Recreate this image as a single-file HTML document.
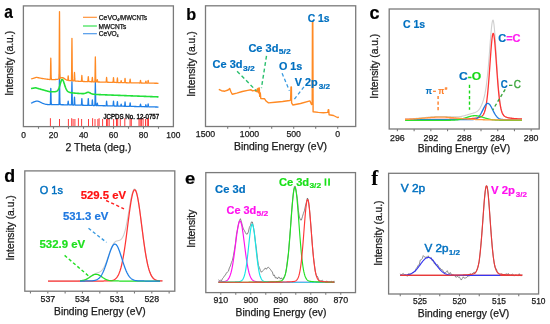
<!DOCTYPE html>
<html><head><meta charset="utf-8"><title>Figure</title>
<style>html,body{margin:0;padding:0;background:#fff;overflow:hidden;}svg{display:block;will-change:transform;}</style></head>
<body><svg width="550" height="324" viewBox="0 0 550 324">
<rect width="550" height="324" fill="#fff"/>
<text x="4.25" y="18.32" font-family='"Liberation Sans", sans-serif' font-weight="bold" font-size="18.07" fill="#000" stroke="#000" stroke-width="0.2" textLength="8.64" lengthAdjust="spacingAndGlyphs">a</text>
<rect x="23.4" y="5.9" width="150.00" height="120.70" fill="none" stroke="#7a7a7a" stroke-width="1.3"/>
<path d="M38.50,126.60v2.2M53.50,126.60v2.2M68.50,126.60v2.2M83.50,126.60v2.2M98.50,126.60v2.2M113.50,126.60v2.2M128.50,126.60v2.2M143.50,126.60v2.2M158.50,126.60v2.2" stroke="#7a7a7a" stroke-width="1.1" fill="none"/>
<text x="21.16" y="138.00" font-family='"Liberation Sans", sans-serif' font-weight="normal" font-size="8.40" fill="#1a1a1a" stroke="#1a1a1a" stroke-width="0.25">0</text>
<text x="48.78" y="138.00" font-family='"Liberation Sans", sans-serif' font-weight="normal" font-size="8.40" fill="#1a1a1a" stroke="#1a1a1a" stroke-width="0.25">20</text>
<text x="78.90" y="138.00" font-family='"Liberation Sans", sans-serif' font-weight="normal" font-size="8.40" fill="#1a1a1a" stroke="#1a1a1a" stroke-width="0.25">40</text>
<text x="108.78" y="138.00" font-family='"Liberation Sans", sans-serif' font-weight="normal" font-size="8.40" fill="#1a1a1a" stroke="#1a1a1a" stroke-width="0.25">60</text>
<text x="138.81" y="138.00" font-family='"Liberation Sans", sans-serif' font-weight="normal" font-size="8.40" fill="#1a1a1a" stroke="#1a1a1a" stroke-width="0.25">80</text>
<text x="166.33" y="138.00" font-family='"Liberation Sans", sans-serif' font-weight="normal" font-size="8.40" fill="#1a1a1a" stroke="#1a1a1a" stroke-width="0.25">100</text>
<text x="65.48" y="150.90" font-family='"Liberation Sans", sans-serif' font-weight="normal" font-size="10.30" fill="#1a1a1a" stroke="#1a1a1a" stroke-width="0.25" textLength="65.68" lengthAdjust="spacingAndGlyphs">2 Theta (deg.)</text>
<text transform="translate(13.00,95.74) rotate(-90)" x="0" y="0" font-family='"Liberation Sans", sans-serif' font-weight="normal" font-size="10.00" fill="#1a1a1a" stroke="#1a1a1a" stroke-width="0.25" textLength="64.77" lengthAdjust="spacingAndGlyphs">Intensity (a.u.)</text>
<path d="M50.40,126.00V118.2M59.50,126.00V119.0M68.40,126.00V119.0M71.70,126.00V118.2M73.10,126.00V119.0M74.90,126.00V119.0M78.40,126.00V118.2M81.60,126.00V119.0M88.50,126.00V119.0M92.60,126.00V118.2M95.00,126.00V119.0M97.90,126.00V119.0M99.10,126.00V118.2M102.60,126.00V119.0M106.50,126.00V119.0M107.70,126.00V118.2M109.20,126.00V119.0M113.60,126.00V119.0M116.50,126.00V118.2M117.70,126.00V119.0M120.30,126.00V119.0M124.80,126.00V118.2M130.10,126.00V119.0M131.30,126.00V119.0M139.00,126.00V118.2M140.20,126.00V119.0M141.40,126.00V119.0M143.10,126.00V118.2M145.50,126.00V119.0M147.30,126.00V119.0M148.50,126.00V118.2" stroke="#ff3b3b" stroke-width="1.0" fill="none"/>
<text x="103.46" y="118.50" font-family='"Liberation Sans", sans-serif' font-weight="normal" font-size="6.50" textLength="55.70" lengthAdjust="spacingAndGlyphs"><tspan fill="#111" stroke="#111" stroke-width="0.4">JCPDS No. 12-0757</tspan></text>
<path d="M31.00,103.13 L31.75,102.85 L32.50,102.54 L33.25,102.20 L34.00,101.87 L34.75,101.57 L35.50,101.33 L36.25,101.18 L37.00,101.14 L37.75,101.22 L38.50,101.40 L39.25,101.68 L40.00,102.02 L40.75,102.39 L41.50,102.76 L42.25,103.12 L43.00,103.45 L43.75,103.73 L44.50,103.96 L45.25,104.15 L46.00,104.30 L46.75,104.42 L47.50,104.51 L48.25,104.57 L49.00,104.61 L49.75,104.63 L49.90,104.64 L50.05,104.64 L50.20,104.58 L50.35,103.96 L50.50,100.68 L50.65,93.20 L50.80,88.34 L50.95,93.20 L51.10,100.68 L51.25,103.96 L51.40,104.58 L51.55,104.63 L51.70,104.63 L52.00,104.63 L52.75,104.62 L53.50,104.61 L54.25,104.61 L55.00,104.61 L55.75,104.62 L56.50,104.62 L57.25,104.64 L58.00,104.65 L58.60,104.66 L58.75,104.66 L58.90,104.56 L59.05,103.41 L59.20,97.27 L59.35,83.27 L59.50,74.18 L59.65,83.27 L59.80,97.28 L59.95,103.43 L60.10,104.59 L60.25,104.70 L60.40,104.71 L61.00,104.72 L61.75,104.74 L62.50,104.76 L63.25,104.77 L64.00,104.79 L64.75,104.81 L65.50,104.83 L66.25,104.85 L67.00,104.86 L67.30,104.87 L67.45,104.87 L67.60,104.87 L67.75,104.73 L67.90,103.99 L68.05,102.29 L68.20,101.19 L68.35,102.30 L68.50,104.00 L68.65,104.75 L68.80,104.89 L68.95,104.91 L69.10,104.91 L69.25,104.92 L70.00,104.94 L70.75,104.95 L71.05,104.96 L71.20,104.96 L71.35,104.89 L71.50,104.01 L71.65,99.31 L71.80,88.62 L71.95,81.68 L72.10,88.63 L72.25,99.33 L72.40,104.03 L72.55,104.92 L72.70,105.00 L72.85,105.00 L73.00,105.01 L73.60,105.02 L73.75,105.02 L73.90,105.00 L74.05,104.70 L74.20,103.09 L74.35,99.42 L74.50,97.04 L74.65,99.43 L74.80,103.11 L74.95,104.72 L75.10,105.03 L75.25,105.06 L75.40,105.07 L76.00,105.08 L76.75,105.10 L77.50,105.12 L78.25,105.13 L79.00,105.15 L79.75,105.17 L80.50,105.19 L80.95,105.20 L81.10,105.20 L81.25,105.18 L81.40,104.94 L81.55,103.61 L81.70,100.58 L81.85,98.62 L82.00,100.59 L82.15,103.62 L82.30,104.96 L82.45,105.21 L82.60,105.24 L82.75,105.24 L83.50,105.26 L84.25,105.28 L85.00,105.30 L85.75,105.31 L86.50,105.33 L87.25,105.35 L87.40,105.35 L87.55,105.36 L87.70,105.34 L87.85,105.08 L88.00,103.72 L88.15,100.60 L88.30,98.58 L88.45,100.60 L88.60,103.73 L88.75,105.10 L88.90,105.37 L89.05,105.39 L89.20,105.40 L89.50,105.40 L90.25,105.42 L91.00,105.44 L91.45,105.45 L91.60,105.45 L91.75,105.44 L91.90,105.23 L92.05,104.13 L92.20,101.61 L92.35,99.97 L92.50,101.61 L92.65,104.14 L92.80,105.26 L92.95,105.47 L93.10,105.49 L93.25,105.49 L94.00,105.51 L94.45,105.52 L94.60,105.52 L94.75,105.45 L94.90,104.57 L95.05,99.90 L95.20,89.25 L95.35,82.34 L95.50,89.26 L95.65,99.91 L95.80,104.59 L95.95,105.48 L96.10,105.56 L96.25,105.57 L96.40,105.57 L96.55,105.57 L96.70,105.57 L96.85,105.48 L97.00,105.00 L97.15,103.90 L97.30,103.19 L97.45,103.91 L97.60,105.02 L97.75,105.50 L97.90,105.60 L98.05,105.61 L98.20,105.61 L98.50,105.62 L99.25,105.64 L100.00,105.66 L100.75,105.67 L101.50,105.69 L102.25,105.71 L103.00,105.73 L103.75,105.75 L104.50,105.76 L105.25,105.78 L105.70,105.79 L105.85,105.80 L106.00,105.78 L106.15,105.61 L106.30,104.66 L106.45,102.51 L106.60,101.11 L106.75,102.52 L106.90,104.68 L107.05,105.63 L107.20,105.81 L107.35,105.83 L107.50,105.84 L108.25,105.85 L109.00,105.87 L109.75,105.89 L110.50,105.91 L111.25,105.93 L112.00,105.94 L112.60,105.96 L112.75,105.96 L112.90,105.95 L113.05,105.77 L113.20,104.81 L113.35,102.61 L113.50,101.18 L113.65,102.61 L113.80,104.82 L113.95,105.79 L114.10,105.98 L114.25,106.00 L114.40,106.00 L115.00,106.02 L115.75,106.03 L116.50,106.05 L116.65,106.05 L116.80,106.04 L116.95,105.88 L117.10,104.97 L117.25,102.91 L117.40,101.57 L117.55,102.92 L117.70,104.99 L117.85,105.90 L118.00,106.07 L118.15,106.09 L118.30,106.10 L118.75,106.11 L119.50,106.12 L120.25,106.14 L120.40,106.15 L120.55,106.14 L120.70,106.07 L120.85,105.67 L121.00,104.76 L121.15,104.16 L121.30,104.76 L121.45,105.68 L121.60,106.09 L121.75,106.17 L121.90,106.18 L122.05,106.19 L122.50,106.20 L123.25,106.21 L124.00,106.23 L124.15,106.24 L124.30,106.24 L124.45,106.23 L124.60,106.07 L124.75,105.20 L124.90,103.23 L125.05,101.96 L125.20,103.24 L125.35,105.22 L125.50,106.09 L125.65,106.26 L125.80,106.27 L125.95,106.28 L126.25,106.29 L127.00,106.30 L127.75,106.32 L128.50,106.34 L129.25,106.36 L129.40,106.36 L129.55,106.35 L129.70,106.22 L129.85,105.50 L130.00,103.85 L130.15,102.78 L130.30,103.86 L130.45,105.51 L130.60,106.24 L130.75,106.38 L130.90,106.40 L131.05,106.40 L131.50,106.41 L132.25,106.43 L133.00,106.45 L133.75,106.47 L134.50,106.48 L135.25,106.50 L136.00,106.52 L136.75,106.54 L137.50,106.56 L138.25,106.57 L139.00,106.59 L139.60,106.61 L139.75,106.61 L139.90,106.60 L140.05,106.51 L140.20,106.01 L140.35,104.87 L140.50,104.13 L140.65,104.88 L140.80,106.03 L140.95,106.54 L141.10,106.63 L141.25,106.65 L141.40,106.65 L142.00,106.66 L142.75,106.68 L143.50,106.70 L144.25,106.72 L145.00,106.74 L145.15,106.74 L145.30,106.74 L145.45,106.66 L145.60,106.26 L145.75,105.35 L145.90,104.76 L146.05,105.36 L146.20,106.28 L146.35,106.69 L146.50,106.77 L146.65,106.78 L146.80,106.78 L147.25,106.79 L147.40,106.79 L147.55,106.79 L147.70,106.68 L147.85,106.12 L148.00,104.84 L148.15,104.01 L148.30,104.85 L148.45,106.14 L148.60,106.71 L148.75,106.82 L148.90,106.83 L149.05,106.83 L149.50,106.84 L150.25,106.86 L151.00,106.88 L151.75,106.90 L152.50,106.92 L153.25,106.93 L154.00,106.95 L154.75,106.97 L155.50,106.99 L156.25,107.01 L157.00,107.02 L157.75,107.04 L158.50,107.06" stroke="#1f7fe6" stroke-width="1.3" fill="none" stroke-linejoin="round"/>
<path d="M31.00,88.57 L31.38,88.50 L31.75,88.44 L32.12,88.37 L32.50,88.30 L32.88,88.23 L33.25,88.17 L33.62,88.10 L34.00,88.03 L34.38,87.96 L34.75,87.90 L35.12,87.83 L35.50,87.76 L35.88,87.87 L36.25,87.97 L36.62,88.08 L37.00,88.19 L37.38,88.29 L37.75,88.40 L38.12,88.51 L38.50,88.61 L38.88,88.72 L39.25,88.83 L39.62,88.93 L40.00,89.04 L40.38,89.14 L40.75,89.25 L41.12,89.36 L41.50,89.46 L41.88,89.57 L42.25,89.67 L42.62,89.78 L43.00,89.88 L43.38,89.99 L43.75,90.09 L44.12,90.20 L44.50,90.30 L44.88,90.40 L45.25,90.51 L45.62,90.61 L46.00,90.72 L46.38,90.82 L46.75,90.92 L47.12,91.02 L47.50,91.13 L47.88,91.23 L48.25,91.33 L48.62,91.43 L49.00,91.53 L49.38,91.63 L49.75,91.72 L50.12,91.74 L50.50,91.74 L50.88,91.75 L51.25,91.76 L51.62,91.77 L52.00,91.77 L52.38,91.77 L52.75,91.77 L53.12,91.77 L53.50,91.77 L53.88,91.76 L54.25,91.74 L54.62,91.72 L55.00,91.69 L55.38,91.64 L55.75,91.57 L56.12,91.47 L56.50,91.34 L56.88,91.14 L57.25,90.87 L57.62,90.50 L58.00,90.01 L58.38,89.39 L58.75,88.61 L59.12,87.68 L59.50,86.59 L59.88,85.37 L60.25,84.07 L60.62,82.75 L61.00,81.51 L61.38,80.46 L61.75,79.73 L62.12,79.42 L62.50,79.54 L62.88,80.02 L63.25,80.79 L63.62,81.78 L64.00,82.90 L64.38,84.09 L64.75,85.27 L65.12,86.39 L65.50,87.44 L65.88,88.38 L66.25,89.20 L66.62,89.90 L67.00,90.48 L67.38,90.96 L67.75,91.35 L68.12,91.65 L68.50,91.90 L68.88,92.09 L69.25,92.24 L69.62,92.36 L70.00,92.47 L70.38,92.55 L70.75,92.62 L71.12,92.68 L71.50,92.74 L71.88,92.79 L72.25,92.84 L72.62,92.89 L73.00,92.93 L73.38,92.97 L73.75,93.01 L74.12,93.04 L74.50,93.08 L74.88,93.11 L75.25,93.15 L75.62,93.18 L76.00,93.21 L76.38,93.24 L76.75,93.27 L77.12,93.30 L77.50,93.33 L77.88,93.35 L78.25,93.38 L78.62,93.40 L79.00,93.43 L79.38,93.46 L79.75,93.48 L80.12,93.51 L80.50,93.53 L80.88,93.55 L81.25,93.57 L81.62,93.59 L82.00,93.61 L82.38,93.62 L82.75,93.63 L83.12,93.63 L83.50,93.61 L83.88,93.58 L84.25,93.53 L84.62,93.45 L85.00,93.35 L85.38,93.22 L85.75,93.08 L86.12,92.91 L86.50,92.75 L86.88,92.59 L87.25,92.45 L87.62,92.35 L88.00,92.30 L88.38,92.31 L88.75,92.37 L89.12,92.48 L89.50,92.64 L89.88,92.83 L90.25,93.04 L90.62,93.25 L91.00,93.45 L91.38,93.63 L91.75,93.79 L92.12,93.93 L92.50,94.04 L92.88,94.12 L93.25,94.19 L93.62,94.25 L94.00,94.29 L94.38,94.32 L94.75,94.35 L95.12,94.38 L95.50,94.40 L95.88,94.43 L96.25,94.45 L96.62,94.47 L97.00,94.49 L97.38,94.51 L97.75,94.53 L98.12,94.55 L98.50,94.57 L98.88,94.59 L99.25,94.60 L99.62,94.62 L100.00,94.63 L100.38,94.65 L100.75,94.66 L101.12,94.68 L101.50,94.69 L101.88,94.71 L102.25,94.72 L102.62,94.74 L103.00,94.75 L103.38,94.76 L103.75,94.78 L104.12,94.79 L104.50,94.81 L104.88,94.82 L105.25,94.84 L105.62,94.85 L106.00,94.87 L106.38,94.88 L106.75,94.90 L107.12,94.91 L107.50,94.93 L107.88,94.94 L108.25,94.96 L108.62,94.97 L109.00,94.99 L109.38,95.00 L109.75,95.01 L110.12,95.03 L110.50,95.04 L110.88,95.06 L111.25,95.07 L111.62,95.09 L112.00,95.10 L112.38,95.12 L112.75,95.13 L113.12,95.15 L113.50,95.16 L113.88,95.18 L114.25,95.19 L114.62,95.20 L115.00,95.22 L115.38,95.23 L115.75,95.25 L116.12,95.26 L116.50,95.28 L116.88,95.29 L117.25,95.31 L117.62,95.32 L118.00,95.34 L118.38,95.35 L118.75,95.36 L119.12,95.38 L119.50,95.39 L119.88,95.41 L120.25,95.42 L120.62,95.44 L121.00,95.45 L121.38,95.47 L121.75,95.48 L122.12,95.50 L122.50,95.51 L122.88,95.52 L123.25,95.54 L123.62,95.55 L124.00,95.57 L124.38,95.58 L124.75,95.60 L125.12,95.61 L125.50,95.63 L125.88,95.64 L126.25,95.65 L126.62,95.67 L127.00,95.68 L127.38,95.70 L127.75,95.71 L128.12,95.73 L128.50,95.74 L128.88,95.76 L129.25,95.77 L129.62,95.78 L130.00,95.80 L130.38,95.81 L130.75,95.83 L131.12,95.84 L131.50,95.86 L131.88,95.87 L132.25,95.89 L132.62,95.90 L133.00,95.92 L133.38,95.93 L133.75,95.94 L134.12,95.96 L134.50,95.97 L134.88,95.99 L135.25,96.00 L135.62,96.02 L136.00,96.03 L136.38,96.05 L136.75,96.06 L137.12,96.07 L137.50,96.09 L137.88,96.10 L138.25,96.12 L138.62,96.13 L139.00,96.15 L139.38,96.16 L139.75,96.18 L140.12,96.19 L140.50,96.20 L140.88,96.22 L141.25,96.23 L141.62,96.25 L142.00,96.26 L142.38,96.28 L142.75,96.29 L143.12,96.30 L143.50,96.32 L143.88,96.33 L144.25,96.35 L144.62,96.36 L145.00,96.38 L145.38,96.39 L145.75,96.41 L146.12,96.42 L146.50,96.43 L146.88,96.45 L147.25,96.46 L147.62,96.48 L148.00,96.49 L148.38,96.51 L148.75,96.52 L149.12,96.54 L149.50,96.55 L149.88,96.56 L150.25,96.58 L150.62,96.59 L151.00,96.61 L151.38,96.62 L151.75,96.64 L152.12,96.65 L152.50,96.67 L152.88,96.68 L153.25,96.69 L153.62,96.71 L154.00,96.72 L154.38,96.74 L154.75,96.75 L155.12,96.77 L155.50,96.78 L155.88,96.80 L156.25,96.81 L156.62,96.82 L157.00,96.84 L157.38,96.85 L157.75,96.87 L158.12,96.88 L158.50,96.90" stroke="#22e03a" stroke-width="1.6" fill="none" stroke-linejoin="round"/>
<path d="M31.00,79.00 L31.75,78.75 L32.50,78.51 L33.25,78.27 L34.00,78.02 L34.75,77.78 L35.50,77.54 L36.25,77.29 L37.00,77.45 L37.75,77.61 L38.50,77.76 L39.25,77.92 L40.00,78.08 L40.75,78.23 L41.50,78.39 L42.25,78.50 L43.00,78.61 L43.75,78.71 L44.50,78.82 L45.25,78.93 L46.00,79.04 L46.75,79.14 L47.50,79.25 L48.25,79.36 L49.00,79.47 L49.75,79.57 L49.90,79.57 L50.05,79.57 L50.20,79.50 L50.35,78.69 L50.50,74.39 L50.65,64.61 L50.80,58.27 L50.95,64.61 L51.10,74.39 L51.25,78.68 L51.40,79.49 L51.55,79.56 L51.70,79.56 L52.00,79.56 L52.75,79.55 L53.50,79.54 L54.25,79.53 L55.00,79.52 L55.75,79.49 L56.50,79.44 L57.25,79.35 L58.00,79.19 L58.60,79.00 L58.75,78.93 L58.90,78.64 L59.05,76.03 L59.20,62.45 L59.35,31.61 L59.50,11.57 L59.65,31.46 L59.80,62.15 L59.95,75.58 L60.10,78.05 L60.25,78.19 L60.40,78.13 L61.00,77.82 L61.75,77.55 L62.50,77.54 L63.25,77.84 L64.00,78.34 L64.75,78.89 L65.50,79.40 L66.25,79.80 L67.00,80.10 L67.30,80.19 L67.45,80.23 L67.60,80.26 L67.75,80.12 L67.90,79.25 L68.05,77.22 L68.20,75.91 L68.35,77.28 L68.50,79.37 L68.65,80.30 L68.80,80.49 L68.95,80.52 L69.10,80.54 L69.25,80.55 L70.00,80.62 L70.75,80.69 L71.05,80.71 L71.20,80.72 L71.35,80.59 L71.50,78.99 L71.65,70.43 L71.80,50.93 L71.95,38.28 L72.10,50.95 L72.25,70.48 L72.40,79.05 L72.55,80.68 L72.70,80.83 L72.85,80.85 L73.00,80.86 L73.60,80.90 L73.75,80.91 L73.90,80.90 L74.05,80.58 L74.20,78.88 L74.35,74.99 L74.50,72.47 L74.65,75.01 L74.80,78.93 L74.95,80.65 L75.10,80.98 L75.25,81.02 L75.40,81.03 L76.00,81.08 L76.75,81.13 L77.50,81.18 L78.25,81.23 L79.00,81.28 L79.75,81.33 L80.50,81.39 L80.95,81.40 L81.10,81.41 L81.25,81.39 L81.40,81.17 L81.55,79.96 L81.70,77.21 L81.85,75.43 L82.00,77.23 L82.15,79.99 L82.30,81.20 L82.45,81.43 L82.60,81.46 L82.75,81.46 L83.50,81.49 L84.25,81.52 L85.00,81.54 L85.75,81.57 L86.50,81.59 L87.25,81.62 L87.40,81.62 L87.55,81.63 L87.70,81.62 L87.85,81.43 L88.00,80.43 L88.15,78.14 L88.30,76.65 L88.45,78.15 L88.60,80.45 L88.75,81.46 L88.90,81.66 L89.05,81.68 L89.20,81.68 L89.50,81.69 L90.25,81.72 L91.00,81.74 L91.45,81.76 L91.60,81.76 L91.75,81.75 L91.90,81.59 L92.05,80.69 L92.20,78.63 L92.35,77.29 L92.50,78.64 L92.65,80.71 L92.80,81.62 L92.95,81.79 L93.10,81.81 L93.25,81.82 L94.00,81.85 L94.45,81.86 L94.60,81.86 L94.75,81.78 L94.90,80.84 L95.05,75.80 L95.20,64.33 L95.35,56.89 L95.50,64.34 L95.65,75.83 L95.80,80.87 L95.95,81.82 L96.10,81.91 L96.25,81.92 L96.40,81.93 L96.55,81.93 L96.70,81.93 L96.85,81.84 L97.00,81.36 L97.15,80.27 L97.30,79.56 L97.45,80.28 L97.60,81.38 L97.75,81.87 L97.90,81.97 L98.05,81.98 L98.20,81.99 L98.50,82.00 L99.25,82.02 L100.00,82.04 L100.75,82.06 L101.50,82.08 L102.25,82.10 L103.00,82.12 L103.75,82.14 L104.50,82.16 L105.25,82.18 L105.70,82.19 L105.85,82.19 L106.00,82.18 L106.15,82.01 L106.30,81.06 L106.45,78.91 L106.60,77.51 L106.75,78.92 L106.90,81.08 L107.05,82.03 L107.20,82.21 L107.35,82.23 L107.50,82.24 L108.25,82.26 L109.00,82.28 L109.75,82.30 L110.50,82.32 L111.25,82.34 L112.00,82.36 L112.60,82.37 L112.75,82.38 L112.90,82.37 L113.05,82.19 L113.20,81.22 L113.35,79.02 L113.50,77.60 L113.65,79.03 L113.80,81.24 L113.95,82.21 L114.10,82.40 L114.25,82.42 L114.40,82.42 L115.00,82.44 L115.75,82.46 L116.50,82.48 L116.65,82.48 L116.80,82.47 L116.95,82.30 L117.10,81.40 L117.25,79.34 L117.40,78.00 L117.55,79.35 L117.70,81.42 L117.85,82.33 L118.00,82.50 L118.15,82.52 L118.30,82.53 L118.75,82.54 L119.50,82.56 L120.25,82.58 L120.40,82.58 L120.55,82.58 L120.70,82.51 L120.85,82.11 L121.00,81.19 L121.15,80.60 L121.30,81.20 L121.45,82.12 L121.60,82.53 L121.75,82.61 L121.90,82.62 L122.05,82.63 L122.50,82.64 L123.25,82.66 L124.00,82.68 L124.15,82.68 L124.30,82.69 L124.45,82.68 L124.60,82.52 L124.75,81.65 L124.90,79.68 L125.05,78.41 L125.20,79.69 L125.35,81.67 L125.50,82.54 L125.65,82.71 L125.80,82.73 L125.95,82.73 L126.25,82.74 L127.00,82.76 L127.75,82.78 L128.50,82.80 L129.25,82.81 L129.40,82.81 L129.55,82.80 L129.70,82.67 L129.85,81.95 L130.00,80.30 L130.15,79.23 L130.30,80.30 L130.45,81.96 L130.60,82.68 L130.75,82.82 L130.90,82.84 L131.05,82.84 L131.50,82.85 L132.25,82.86 L133.00,82.87 L133.75,82.89 L134.50,82.90 L135.25,82.91 L136.00,82.92 L136.75,82.94 L137.50,82.95 L138.25,82.96 L139.00,82.97 L139.60,82.98 L139.75,82.99 L139.90,82.98 L140.05,82.89 L140.20,82.39 L140.35,81.24 L140.50,80.50 L140.65,81.25 L140.80,82.40 L140.95,82.90 L141.10,83.00 L141.25,83.01 L141.40,83.01 L142.00,83.02 L142.75,83.04 L143.50,83.05 L144.25,83.06 L145.00,83.07 L145.15,83.08 L145.30,83.07 L145.45,83.00 L145.60,82.60 L145.75,81.68 L145.90,81.09 L146.05,81.69 L146.20,82.61 L146.35,83.01 L146.50,83.09 L146.65,83.10 L146.80,83.10 L147.25,83.11 L147.40,83.11 L147.55,83.11 L147.70,83.00 L147.85,82.44 L148.00,81.16 L148.15,80.33 L148.30,81.16 L148.45,82.45 L148.60,83.02 L148.75,83.13 L148.90,83.14 L149.05,83.14 L149.50,83.15 L150.25,83.16 L151.00,83.17 L151.75,83.19 L152.50,83.20 L153.25,83.21 L154.00,83.22 L154.75,83.24 L155.50,83.25 L156.25,83.26 L157.00,83.27 L157.75,83.29 L158.50,83.30" stroke="#ff8a24" stroke-width="1.3" fill="none" stroke-linejoin="round"/>
<line x1="83" y1="17.3" x2="96.9" y2="17.3" stroke="#ff8f33" stroke-width="1.15"/>
<line x1="83" y1="26.0" x2="96.9" y2="26.0" stroke="#2ee048" stroke-width="1.15"/>
<line x1="83" y1="33.7" x2="96.9" y2="33.7" stroke="#4a96ea" stroke-width="1.15"/>
<text x="98.66" y="19.80" font-family='"Liberation Sans", sans-serif' font-weight="normal" font-size="6.30" fill="#111" stroke="#111" stroke-width="0.25" textLength="18.67" lengthAdjust="spacingAndGlyphs">CeVO</text>
<text x="117.23" y="21.00" font-family='"Liberation Sans", sans-serif' font-weight="normal" font-size="4.20" fill="#111" stroke="#111" stroke-width="0.25" textLength="1.87" lengthAdjust="spacingAndGlyphs">4</text>
<text x="119.40" y="19.80" font-family='"Liberation Sans", sans-serif' font-weight="normal" font-size="6.30" fill="#111" stroke="#111" stroke-width="0.25" textLength="27.82" lengthAdjust="spacingAndGlyphs">/MWCNTs</text>
<text x="98.46" y="28.50" font-family='"Liberation Sans", sans-serif' font-weight="normal" font-size="6.30" fill="#111" stroke="#111" stroke-width="0.25" textLength="27.78" lengthAdjust="spacingAndGlyphs">MWCNTs</text>
<text x="98.67" y="36.20" font-family='"Liberation Sans", sans-serif' font-weight="normal" font-size="6.30" fill="#111" stroke="#111" stroke-width="0.25" textLength="18.15" lengthAdjust="spacingAndGlyphs">CeVO</text>
<text x="116.63" y="37.40" font-family='"Liberation Sans", sans-serif' font-weight="normal" font-size="4.20" fill="#111" stroke="#111" stroke-width="0.25" textLength="1.76" lengthAdjust="spacingAndGlyphs">4</text>
<text x="186.34" y="20.43" font-family='"Liberation Sans", sans-serif' font-weight="bold" font-size="17.28" fill="#000" stroke="#000" stroke-width="0.2" textLength="9.92" lengthAdjust="spacingAndGlyphs">b</text>
<rect x="205.5" y="5.8" width="150.20" height="120.70" fill="none" stroke="#7a7a7a" stroke-width="1.3"/>
<path d="M337.70,126.50v2.2M315.70,126.50v2.2M293.70,126.50v2.2M271.70,126.50v2.2M249.70,126.50v2.2M227.70,126.50v2.2" stroke="#7a7a7a" stroke-width="1.1" fill="none"/>
<text x="195.86" y="136.80" font-family='"Liberation Sans", sans-serif' font-weight="normal" font-size="8.70" fill="#1a1a1a" stroke="#1a1a1a" stroke-width="0.25">1500</text>
<text x="239.86" y="136.80" font-family='"Liberation Sans", sans-serif' font-weight="normal" font-size="8.70" fill="#1a1a1a" stroke="#1a1a1a" stroke-width="0.25">1000</text>
<text x="286.44" y="136.80" font-family='"Liberation Sans", sans-serif' font-weight="normal" font-size="8.70" fill="#1a1a1a" stroke="#1a1a1a" stroke-width="0.25">500</text>
<text x="335.28" y="136.80" font-family='"Liberation Sans", sans-serif' font-weight="normal" font-size="8.70" fill="#1a1a1a" stroke="#1a1a1a" stroke-width="0.25">0</text>
<text x="234.05" y="150.00" font-family='"Liberation Sans", sans-serif' font-weight="normal" font-size="10.20" fill="#1a1a1a" stroke="#1a1a1a" stroke-width="0.25" textLength="93.00" lengthAdjust="spacingAndGlyphs">Binding Energy (eV)</text>
<text transform="translate(194.60,96.85) rotate(-90)" x="0" y="0" font-family='"Liberation Sans", sans-serif' font-weight="normal" font-size="10.00" fill="#1a1a1a" stroke="#1a1a1a" stroke-width="0.25" textLength="65.49" lengthAdjust="spacingAndGlyphs">Intensity (a.u.)</text>
<path d="M218.80,89.30 L221.50,90.70 L224.80,91.20 L228.10,90.00 L229.70,88.50 L230.80,91.50 L232.20,94.20 L236.80,93.10 L242.30,91.50 L247.70,90.40 L251.00,89.80 L252.60,90.90 L254.80,90.40 L256.50,91.60 L257.30,88.90 L257.80,92.00 L258.30,88.20 L258.80,93.00 L259.30,88.00 L259.70,96.40 L260.30,93.00 L260.80,98.50 L264.60,98.80 L266.30,101.30 L268.50,102.90 L275.00,102.20 L282.60,101.50 L289.60,100.50 L290.60,100.20 L291.00,87.00 L291.40,87.00 L291.60,102.80 L292.80,105.00 L300.50,103.50 L310.00,100.90 L311.50,104.50 L312.20,104.20 L312.45,22.00 L312.80,22.00 L313.10,111.70 L318.30,112.40 L323.40,112.70 L327.80,112.40 L328.30,109.60 L328.70,109.60 L329.10,114.80 L333.50,115.50 L337.40,117.50 L338.90,117.30" stroke="#ff8a24" stroke-width="1.4" fill="none" stroke-linejoin="round"/>
<line x1="237.1" y1="71.2" x2="256.3" y2="90.8" stroke="#2bbf6e" stroke-width="1.4" stroke-dasharray="3.8,2.6"/>
<line x1="266.5" y1="55.9" x2="261.4" y2="88.2" stroke="#2bbf6e" stroke-width="1.4" stroke-dasharray="3.8,2.6"/>
<line x1="282.1" y1="73.3" x2="289.4" y2="90.7" stroke="#3a9ae0" stroke-width="1.3" stroke-dasharray="3.4,2.6"/>
<line x1="303.9" y1="86.9" x2="292.9" y2="101.0" stroke="#3a9ae0" stroke-width="1.3" stroke-dasharray="3.4,2.6"/>
<text x="307.73" y="22.30" font-family='"Liberation Sans", sans-serif' font-weight="bold" font-size="10.34" textLength="21.84" lengthAdjust="spacingAndGlyphs"><tspan fill="#0070C0" stroke="#0070C0" stroke-width="0.2">C 1s</tspan></text>
<text x="248.40" y="51.70" font-family='"Liberation Sans", sans-serif' font-weight="bold" font-size="11.05" textLength="30.08" lengthAdjust="spacingAndGlyphs"><tspan fill="#0070C0" stroke="#0070C0" stroke-width="0.2">Ce 3d</tspan></text>
<text x="278.84" y="54.47" font-family='"Liberation Sans", sans-serif' font-weight="bold" font-size="6.71" fill="#0070C0" stroke="#0070C0" stroke-width="0.2" textLength="11.89" lengthAdjust="spacingAndGlyphs">5/2</text>
<text x="212.60" y="68.20" font-family='"Liberation Sans", sans-serif' font-weight="bold" font-size="11.01" textLength="29.98" lengthAdjust="spacingAndGlyphs"><tspan fill="#0070C0" stroke="#0070C0" stroke-width="0.2">Ce 3d</tspan></text>
<text x="243.01" y="70.97" font-family='"Liberation Sans", sans-serif' font-weight="bold" font-size="6.71" fill="#0070C0" stroke="#0070C0" stroke-width="0.2" textLength="11.82" lengthAdjust="spacingAndGlyphs">3/2</text>
<text x="278.91" y="70.30" font-family='"Liberation Sans", sans-serif' font-weight="bold" font-size="10.78" textLength="23.37" lengthAdjust="spacingAndGlyphs"><tspan fill="#0070C0" stroke="#0070C0" stroke-width="0.2">O 1s</tspan></text>
<text x="294.78" y="86.20" font-family='"Liberation Sans", sans-serif' font-weight="bold" font-size="10.85" textLength="22.91" lengthAdjust="spacingAndGlyphs"><tspan fill="#0070C0" stroke="#0070C0" stroke-width="0.2">V 2p</tspan></text>
<text x="318.72" y="88.75" font-family='"Liberation Sans", sans-serif' font-weight="bold" font-size="7.65" fill="#0070C0" stroke="#0070C0" stroke-width="0.2" textLength="11.40" lengthAdjust="spacingAndGlyphs">3/2</text>
<text x="369.40" y="18.81" font-family='"Liberation Sans", sans-serif' font-weight="bold" font-size="18.61" fill="#000" stroke="#000" stroke-width="0.2" textLength="10.03" lengthAdjust="spacingAndGlyphs">c</text>
<rect x="389.2" y="9.0" width="150.00" height="120.00" fill="none" stroke="#7a7a7a" stroke-width="1.3"/>
<path d="M531.16,129.00v2.2M514.44,129.00v2.2M497.72,129.00v2.2M481.00,129.00v2.2M464.28,129.00v2.2M447.56,129.00v2.2M430.84,129.00v2.2M414.12,129.00v2.2M397.40,129.00v2.2" stroke="#7a7a7a" stroke-width="1.1" fill="none"/>
<text x="390.03" y="141.00" font-family='"Liberation Sans", sans-serif' font-weight="normal" font-size="8.80" fill="#1a1a1a" stroke="#1a1a1a" stroke-width="0.25">296</text>
<text x="423.50" y="141.00" font-family='"Liberation Sans", sans-serif' font-weight="normal" font-size="8.80" fill="#1a1a1a" stroke="#1a1a1a" stroke-width="0.25">292</text>
<text x="456.91" y="141.00" font-family='"Liberation Sans", sans-serif' font-weight="normal" font-size="8.80" fill="#1a1a1a" stroke="#1a1a1a" stroke-width="0.25">288</text>
<text x="490.29" y="141.00" font-family='"Liberation Sans", sans-serif' font-weight="normal" font-size="8.80" fill="#1a1a1a" stroke="#1a1a1a" stroke-width="0.25">284</text>
<text x="523.77" y="141.00" font-family='"Liberation Sans", sans-serif' font-weight="normal" font-size="8.80" fill="#1a1a1a" stroke="#1a1a1a" stroke-width="0.25">280</text>
<text x="417.75" y="152.40" font-family='"Liberation Sans", sans-serif' font-weight="normal" font-size="10.20" fill="#1a1a1a" stroke="#1a1a1a" stroke-width="0.25" textLength="92.39" lengthAdjust="spacingAndGlyphs">Binding Energy (eV)</text>
<text transform="translate(378.00,98.64) rotate(-90)" x="0" y="0" font-family='"Liberation Sans", sans-serif' font-weight="normal" font-size="10.00" fill="#1a1a1a" stroke="#1a1a1a" stroke-width="0.25" textLength="64.88" lengthAdjust="spacingAndGlyphs">Intensity (a.u.)</text>
<path d="M405.00,119.14 L405.50,119.12 L406.00,119.09 L406.50,119.07 L407.00,119.04 L407.50,119.01 L408.00,118.99 L408.50,118.96 L409.00,118.93 L409.50,118.89 L410.00,118.86 L410.50,118.83 L411.00,118.79 L411.50,118.76 L412.00,118.72 L412.50,118.68 L413.00,118.64 L413.50,118.60 L414.00,118.56 L414.50,118.52 L415.00,118.48 L415.50,118.44 L416.00,118.39 L416.50,118.35 L417.00,118.30 L417.50,118.26 L418.00,118.21 L418.50,118.16 L419.00,118.11 L419.50,118.06 L420.00,118.01 L420.50,117.96 L421.00,117.91 L421.50,117.86 L422.00,117.81 L422.50,117.76 L423.00,117.71 L423.50,117.66 L424.00,117.61 L424.50,117.56 L425.00,117.51 L425.50,117.46 L426.00,117.41 L426.50,117.36 L427.00,117.31 L427.50,117.27 L428.00,117.22 L428.50,117.17 L429.00,117.13 L429.50,117.08 L430.00,117.04 L430.50,117.00 L431.00,116.96 L431.50,116.92 L432.00,116.88 L432.50,116.85 L433.00,116.81 L433.50,116.78 L434.00,116.75 L434.50,116.72 L435.00,116.69 L435.50,116.67 L436.00,116.65 L436.50,116.62 L437.00,116.61 L437.50,116.59 L438.00,116.57 L438.50,116.56 L439.00,116.55 L439.50,116.54 L440.00,116.53 L440.50,116.53 L441.00,116.53 L441.50,116.53 L442.00,116.53 L442.50,116.53 L443.00,116.54 L443.50,116.55 L444.00,116.56 L444.50,116.57 L445.00,116.58 L445.50,116.60 L446.00,116.61 L446.50,116.63 L447.00,116.65 L447.50,116.67 L448.00,116.69 L448.50,116.71 L449.00,116.73 L449.50,116.75 L450.00,116.77 L450.50,116.80 L451.00,116.82 L451.50,116.83 L452.00,116.85 L452.50,116.87 L453.00,116.88 L453.50,116.89 L454.00,116.90 L454.50,116.91 L455.00,116.91 L455.50,116.90 L456.00,116.89 L456.50,116.88 L457.00,116.86 L457.50,116.83 L458.00,116.80 L458.50,116.76 L459.00,116.71 L459.50,116.66 L460.00,116.59 L460.50,116.52 L461.00,116.44 L461.50,116.35 L462.00,116.26 L462.50,116.15 L463.00,116.04 L463.50,115.92 L464.00,115.79 L464.50,115.66 L465.00,115.52 L465.50,115.38 L466.00,115.23 L466.50,115.08 L467.00,114.93 L467.50,114.77 L468.00,114.61 L468.50,114.46 L469.00,114.31 L469.50,114.15 L470.00,114.01 L470.50,113.86 L471.00,113.72 L471.50,113.58 L472.00,113.44 L472.50,113.30 L473.00,113.17 L473.50,113.02 L474.00,112.87 L474.50,112.71 L475.00,112.53 L475.50,112.33 L476.00,112.10 L476.50,111.82 L477.00,111.51 L477.50,111.14 L478.00,110.70 L478.50,110.20 L479.00,109.62 L479.50,108.95 L480.00,108.19 L480.50,107.33 L481.00,106.37 L481.50,105.30 L482.00,104.11 L482.50,102.79 L483.00,101.32 L483.50,99.69 L484.00,97.85 L484.50,95.78 L485.00,93.42 L485.50,90.72 L486.00,87.62 L486.50,84.07 L487.00,80.00 L487.50,75.40 L488.00,70.24 L488.50,64.57 L489.00,58.45 L489.50,52.00 L490.00,45.40 L490.50,38.91 L491.00,32.82 L491.50,27.49 L492.00,23.33 L492.50,20.73 L493.00,20.00 L493.50,21.31 L494.00,24.61 L494.50,29.68 L495.00,36.13 L495.50,43.54 L496.00,51.48 L496.50,59.57 L497.00,67.49 L497.50,75.01 L498.00,81.95 L498.50,88.18 L499.00,93.65 L499.50,98.34 L500.00,102.29 L500.50,105.54 L501.00,108.18 L501.50,110.29 L502.00,111.94 L502.50,113.24 L503.00,114.24 L503.50,115.01 L504.00,115.61 L504.50,116.08 L505.00,116.45 L505.50,116.75 L506.00,117.00 L506.50,117.20 L507.00,117.38 L507.50,117.53 L508.00,117.67 L508.50,117.79 L509.00,117.90 L509.50,118.00 L510.00,118.09 L510.50,118.17 L511.00,118.24 L511.50,118.31 L512.00,118.38 L512.50,118.44 L513.00,118.49 L513.50,118.55 L514.00,118.59 L514.50,118.64 L515.00,118.68 L515.50,118.72 L516.00,118.76 L516.50,118.79 L517.00,118.82 L517.50,118.86 L518.00,118.88 L518.50,118.91 L519.00,118.94 L519.50,118.96 L520.00,118.98 L520.50,119.01 L521.00,119.03 L521.50,119.05 L522.00,119.07" stroke="#cfcfcf" stroke-width="1.1" fill="none" stroke-linejoin="round"/>
<path d="M405.00,119.44 L405.50,119.44 L406.00,119.44 L406.50,119.44 L407.00,119.44 L407.50,119.44 L408.00,119.44 L408.50,119.44 L409.00,119.44 L409.50,119.44 L410.00,119.44 L410.50,119.44 L411.00,119.44 L411.50,119.43 L412.00,119.43 L412.50,119.43 L413.00,119.43 L413.50,119.43 L414.00,119.43 L414.50,119.43 L415.00,119.43 L415.50,119.43 L416.00,119.43 L416.50,119.43 L417.00,119.43 L417.50,119.42 L418.00,119.42 L418.50,119.42 L419.00,119.42 L419.50,119.42 L420.00,119.42 L420.50,119.42 L421.00,119.42 L421.50,119.42 L422.00,119.41 L422.50,119.41 L423.00,119.41 L423.50,119.41 L424.00,119.41 L424.50,119.41 L425.00,119.41 L425.50,119.41 L426.00,119.40 L426.50,119.40 L427.00,119.40 L427.50,119.40 L428.00,119.40 L428.50,119.40 L429.00,119.39 L429.50,119.39 L430.00,119.39 L430.50,119.39 L431.00,119.39 L431.50,119.39 L432.00,119.38 L432.50,119.38 L433.00,119.38 L433.50,119.38 L434.00,119.38 L434.50,119.37 L435.00,119.37 L435.50,119.37 L436.00,119.37 L436.50,119.37 L437.00,119.36 L437.50,119.36 L438.00,119.36 L438.50,119.36 L439.00,119.35 L439.50,119.35 L440.00,119.35 L440.50,119.34 L441.00,119.34 L441.50,119.34 L442.00,119.34 L442.50,119.33 L443.00,119.33 L443.50,119.32 L444.00,119.32 L444.50,119.32 L445.00,119.31 L445.50,119.31 L446.00,119.31 L446.50,119.30 L447.00,119.30 L447.50,119.29 L448.00,119.29 L448.50,119.28 L449.00,119.28 L449.50,119.27 L450.00,119.27 L450.50,119.26 L451.00,119.26 L451.50,119.25 L452.00,119.25 L452.50,119.24 L453.00,119.23 L453.50,119.23 L454.00,119.22 L454.50,119.21 L455.00,119.21 L455.50,119.20 L456.00,119.19 L456.50,119.18 L457.00,119.17 L457.50,119.16 L458.00,119.15 L458.50,119.14 L459.00,119.13 L459.50,119.12 L460.00,119.11 L460.50,119.10 L461.00,119.09 L461.50,119.07 L462.00,119.06 L462.50,119.05 L463.00,119.03 L463.50,119.02 L464.00,119.00 L464.50,118.98 L465.00,118.96 L465.50,118.94 L466.00,118.92 L466.50,118.90 L467.00,118.88 L467.50,118.86 L468.00,118.83 L468.50,118.81 L469.00,118.78 L469.50,118.75 L470.00,118.72 L470.50,118.68 L471.00,118.65 L471.50,118.61 L472.00,118.57 L472.50,118.52 L473.00,118.48 L473.50,118.43 L474.00,118.37 L474.50,118.31 L475.00,118.25 L475.50,118.18 L476.00,118.11 L476.50,118.03 L477.00,117.94 L477.50,117.84 L478.00,117.74 L478.50,117.62 L479.00,117.49 L479.50,117.35 L480.00,117.18 L480.50,116.98 L481.00,116.74 L481.50,116.45 L482.00,116.10 L482.50,115.65 L483.00,115.07 L483.50,114.33 L484.00,113.37 L484.50,112.13 L485.00,110.55 L485.50,108.54 L486.00,106.04 L486.50,102.96 L487.00,99.24 L487.50,94.85 L488.00,89.77 L488.50,84.02 L489.00,77.68 L489.50,70.88 L490.00,63.81 L490.50,56.72 L491.00,49.92 L491.50,43.78 L492.00,38.73 L492.50,35.14 L493.00,33.36 L493.50,33.56 L494.00,35.72 L494.50,39.63 L495.00,44.94 L495.50,51.24 L496.00,58.12 L496.50,65.23 L497.00,72.27 L497.50,78.99 L498.00,85.22 L498.50,90.84 L499.00,95.78 L499.50,100.04 L500.00,103.62 L500.50,106.58 L501.00,108.98 L501.50,110.89 L502.00,112.40 L502.50,113.58 L503.00,114.49 L503.50,115.20 L504.00,115.75 L504.50,116.18 L505.00,116.52 L505.50,116.79 L506.00,117.02 L506.50,117.21 L507.00,117.38 L507.50,117.52 L508.00,117.65 L508.50,117.76 L509.00,117.86 L509.50,117.96 L510.00,118.04 L510.50,118.12 L511.00,118.20 L511.50,118.26 L512.00,118.32 L512.50,118.38 L513.00,118.44 L513.50,118.49 L514.00,118.53 L514.50,118.58 L515.00,118.62 L515.50,118.65 L516.00,118.69 L516.50,118.72 L517.00,118.75 L517.50,118.78 L518.00,118.81 L518.50,118.84 L519.00,118.86 L519.50,118.89 L520.00,118.91 L520.50,118.93 L521.00,118.95 L521.50,118.97 L522.00,118.99" stroke="#ff3434" stroke-width="1.3" fill="none" stroke-linejoin="round"/>
<path d="M405.00,119.70 L405.50,119.70 L406.00,119.70 L406.50,119.70 L407.00,119.70 L407.50,119.70 L408.00,119.70 L408.50,119.70 L409.00,119.70 L409.50,119.70 L410.00,119.70 L410.50,119.70 L411.00,119.70 L411.50,119.70 L412.00,119.70 L412.50,119.70 L413.00,119.70 L413.50,119.70 L414.00,119.70 L414.50,119.70 L415.00,119.70 L415.50,119.70 L416.00,119.70 L416.50,119.70 L417.00,119.70 L417.50,119.70 L418.00,119.70 L418.50,119.70 L419.00,119.70 L419.50,119.70 L420.00,119.70 L420.50,119.70 L421.00,119.70 L421.50,119.70 L422.00,119.70 L422.50,119.70 L423.00,119.70 L423.50,119.70 L424.00,119.70 L424.50,119.70 L425.00,119.70 L425.50,119.70 L426.00,119.70 L426.50,119.70 L427.00,119.70 L427.50,119.70 L428.00,119.70 L428.50,119.70 L429.00,119.70 L429.50,119.70 L430.00,119.70 L430.50,119.70 L431.00,119.70 L431.50,119.70 L432.00,119.70 L432.50,119.70 L433.00,119.70 L433.50,119.70 L434.00,119.70 L434.50,119.70 L435.00,119.70 L435.50,119.70 L436.00,119.70 L436.50,119.70 L437.00,119.70 L437.50,119.70 L438.00,119.70 L438.50,119.70 L439.00,119.70 L439.50,119.70 L440.00,119.70 L440.50,119.70 L441.00,119.70 L441.50,119.70 L442.00,119.70 L442.50,119.70 L443.00,119.70 L443.50,119.70 L444.00,119.70 L444.50,119.70 L445.00,119.70 L445.50,119.70 L446.00,119.70 L446.50,119.70 L447.00,119.70 L447.50,119.70 L448.00,119.70 L448.50,119.70 L449.00,119.70 L449.50,119.70 L450.00,119.70 L450.50,119.70 L451.00,119.70 L451.50,119.70 L452.00,119.70 L452.50,119.70 L453.00,119.70 L453.50,119.70 L454.00,119.70 L454.50,119.70 L455.00,119.70 L455.50,119.70 L456.00,119.70 L456.50,119.70 L457.00,119.70 L457.50,119.70 L458.00,119.70 L458.50,119.70 L459.00,119.70 L459.50,119.70 L460.00,119.70 L460.50,119.70 L461.00,119.70 L461.50,119.70 L462.00,119.70 L462.50,119.70 L463.00,119.70 L463.50,119.70 L464.00,119.70 L464.50,119.70 L465.00,119.70 L465.50,119.70 L466.00,119.70 L466.50,119.70 L467.00,119.70 L467.50,119.70 L468.00,119.70 L468.50,119.69 L469.00,119.69 L469.50,119.69 L470.00,119.68 L470.50,119.67 L471.00,119.66 L471.50,119.64 L472.00,119.61 L472.50,119.58 L473.00,119.53 L473.50,119.48 L474.00,119.40 L474.50,119.30 L475.00,119.17 L475.50,119.02 L476.00,118.82 L476.50,118.58 L477.00,118.29 L477.50,117.94 L478.00,117.52 L478.50,117.04 L479.00,116.49 L479.50,115.85 L480.00,115.15 L480.50,114.37 L481.00,113.52 L481.50,112.61 L482.00,111.65 L482.50,110.65 L483.00,109.64 L483.50,108.64 L484.00,107.66 L484.50,106.73 L485.00,105.87 L485.50,105.11 L486.00,104.47 L486.50,103.97 L487.00,103.62 L487.50,103.43 L488.00,103.41 L488.50,103.57 L489.00,103.88 L489.50,104.36 L490.00,104.97 L490.50,105.71 L491.00,106.55 L491.50,107.47 L492.00,108.44 L492.50,109.44 L493.00,110.45 L493.50,111.45 L494.00,112.42 L494.50,113.34 L495.00,114.20 L495.50,115.00 L496.00,115.72 L496.50,116.37 L497.00,116.94 L497.50,117.43 L498.00,117.86 L498.50,118.22 L499.00,118.52 L499.50,118.78 L500.00,118.98 L500.50,119.15 L501.00,119.28 L501.50,119.38 L502.00,119.46 L502.50,119.52 L503.00,119.57 L503.50,119.61 L504.00,119.63 L504.50,119.65 L505.00,119.67 L505.50,119.68 L506.00,119.68 L506.50,119.69 L507.00,119.69 L507.50,119.70 L508.00,119.70 L508.50,119.70 L509.00,119.70 L509.50,119.70 L510.00,119.70 L510.50,119.70 L511.00,119.70 L511.50,119.70 L512.00,119.70 L512.50,119.70 L513.00,119.70 L513.50,119.70 L514.00,119.70 L514.50,119.70 L515.00,119.70 L515.50,119.70 L516.00,119.70 L516.50,119.70 L517.00,119.70 L517.50,119.70 L518.00,119.70 L518.50,119.70 L519.00,119.70 L519.50,119.70 L520.00,119.70 L520.50,119.70 L521.00,119.70 L521.50,119.70 L522.00,119.70" stroke="#1f78e0" stroke-width="1.3" fill="none" stroke-linejoin="round"/>
<path d="M405.00,120.30 L405.50,120.30 L406.00,120.30 L406.50,120.30 L407.00,120.30 L407.50,120.30 L408.00,120.30 L408.50,120.30 L409.00,120.30 L409.50,120.30 L410.00,120.30 L410.50,120.30 L411.00,120.30 L411.50,120.30 L412.00,120.30 L412.50,120.30 L413.00,120.30 L413.50,120.30 L414.00,120.30 L414.50,120.30 L415.00,120.30 L415.50,120.30 L416.00,120.30 L416.50,120.30 L417.00,120.30 L417.50,120.30 L418.00,120.30 L418.50,120.30 L419.00,120.30 L419.50,120.30 L420.00,120.30 L420.50,120.30 L421.00,120.30 L421.50,120.30 L422.00,120.30 L422.50,120.30 L423.00,120.30 L423.50,120.30 L424.00,120.30 L424.50,120.30 L425.00,120.30 L425.50,120.30 L426.00,120.30 L426.50,120.30 L427.00,120.30 L427.50,120.30 L428.00,120.30 L428.50,120.30 L429.00,120.30 L429.50,120.30 L430.00,120.30 L430.50,120.30 L431.00,120.30 L431.50,120.30 L432.00,120.30 L432.50,120.30 L433.00,120.30 L433.50,120.30 L434.00,120.30 L434.50,120.30 L435.00,120.30 L435.50,120.30 L436.00,120.30 L436.50,120.30 L437.00,120.30 L437.50,120.30 L438.00,120.30 L438.50,120.30 L439.00,120.30 L439.50,120.30 L440.00,120.30 L440.50,120.30 L441.00,120.30 L441.50,120.30 L442.00,120.30 L442.50,120.30 L443.00,120.30 L443.50,120.30 L444.00,120.29 L444.50,120.29 L445.00,120.29 L445.50,120.29 L446.00,120.29 L446.50,120.28 L447.00,120.28 L447.50,120.28 L448.00,120.27 L448.50,120.26 L449.00,120.26 L449.50,120.25 L450.00,120.24 L450.50,120.23 L451.00,120.22 L451.50,120.20 L452.00,120.18 L452.50,120.16 L453.00,120.14 L453.50,120.11 L454.00,120.08 L454.50,120.05 L455.00,120.01 L455.50,119.97 L456.00,119.92 L456.50,119.87 L457.00,119.81 L457.50,119.75 L458.00,119.68 L458.50,119.60 L459.00,119.52 L459.50,119.43 L460.00,119.33 L460.50,119.23 L461.00,119.12 L461.50,119.00 L462.00,118.87 L462.50,118.74 L463.00,118.60 L463.50,118.46 L464.00,118.31 L464.50,118.16 L465.00,118.00 L465.50,117.84 L466.00,117.68 L466.50,117.51 L467.00,117.35 L467.50,117.19 L468.00,117.02 L468.50,116.87 L469.00,116.72 L469.50,116.57 L470.00,116.43 L470.50,116.30 L471.00,116.18 L471.50,116.07 L472.00,115.98 L472.50,115.90 L473.00,115.83 L473.50,115.77 L474.00,115.73 L474.50,115.71 L475.00,115.70 L475.50,115.71 L476.00,115.73 L476.50,115.77 L477.00,115.83 L477.50,115.90 L478.00,115.98 L478.50,116.07 L479.00,116.18 L479.50,116.30 L480.00,116.43 L480.50,116.57 L481.00,116.72 L481.50,116.87 L482.00,117.02 L482.50,117.19 L483.00,117.35 L483.50,117.51 L484.00,117.68 L484.50,117.84 L485.00,118.00 L485.50,118.16 L486.00,118.31 L486.50,118.46 L487.00,118.60 L487.50,118.74 L488.00,118.87 L488.50,119.00 L489.00,119.12 L489.50,119.23 L490.00,119.33 L490.50,119.43 L491.00,119.52 L491.50,119.60 L492.00,119.68 L492.50,119.75 L493.00,119.81 L493.50,119.87 L494.00,119.92 L494.50,119.97 L495.00,120.01 L495.50,120.05 L496.00,120.08 L496.50,120.11 L497.00,120.14 L497.50,120.16 L498.00,120.18 L498.50,120.20 L499.00,120.22 L499.50,120.23 L500.00,120.24 L500.50,120.25 L501.00,120.26 L501.50,120.26 L502.00,120.27 L502.50,120.28 L503.00,120.28 L503.50,120.28 L504.00,120.29 L504.50,120.29 L505.00,120.29 L505.50,120.29 L506.00,120.29 L506.50,120.30 L507.00,120.30 L507.50,120.30 L508.00,120.30 L508.50,120.30 L509.00,120.30 L509.50,120.30 L510.00,120.30 L510.50,120.30 L511.00,120.30 L511.50,120.30 L512.00,120.30 L512.50,120.30 L513.00,120.30 L513.50,120.30 L514.00,120.30 L514.50,120.30 L515.00,120.30 L515.50,120.30 L516.00,120.30 L516.50,120.30 L517.00,120.30 L517.50,120.30 L518.00,120.30 L518.50,120.30 L519.00,120.30 L519.50,120.30 L520.00,120.30 L520.50,120.30 L521.00,120.30 L521.50,120.30 L522.00,120.30" stroke="#2ee02e" stroke-width="1.3" fill="none" stroke-linejoin="round"/>
<path d="M405.00,119.51 L405.50,119.49 L406.00,119.47 L406.50,119.44 L407.00,119.42 L407.50,119.39 L408.00,119.37 L408.50,119.34 L409.00,119.31 L409.50,119.28 L410.00,119.25 L410.50,119.22 L411.00,119.19 L411.50,119.15 L412.00,119.12 L412.50,119.08 L413.00,119.05 L413.50,119.01 L414.00,118.97 L414.50,118.93 L415.00,118.89 L415.50,118.85 L416.00,118.81 L416.50,118.77 L417.00,118.72 L417.50,118.68 L418.00,118.64 L418.50,118.59 L419.00,118.55 L419.50,118.50 L420.00,118.45 L420.50,118.41 L421.00,118.36 L421.50,118.31 L422.00,118.26 L422.50,118.22 L423.00,118.17 L423.50,118.12 L424.00,118.07 L424.50,118.03 L425.00,117.98 L425.50,117.93 L426.00,117.89 L426.50,117.84 L427.00,117.80 L427.50,117.75 L428.00,117.71 L428.50,117.67 L429.00,117.63 L429.50,117.58 L430.00,117.55 L430.50,117.51 L431.00,117.47 L431.50,117.43 L432.00,117.40 L432.50,117.37 L433.00,117.34 L433.50,117.31 L434.00,117.28 L434.50,117.25 L435.00,117.23 L435.50,117.21 L436.00,117.19 L436.50,117.17 L437.00,117.15 L437.50,117.14 L438.00,117.13 L438.50,117.12 L439.00,117.11 L439.50,117.10 L440.00,117.10 L440.50,117.10 L441.00,117.10 L441.50,117.10 L442.00,117.11 L442.50,117.12 L443.00,117.13 L443.50,117.14 L444.00,117.15 L444.50,117.17 L445.00,117.19 L445.50,117.21 L446.00,117.23 L446.50,117.25 L447.00,117.28 L447.50,117.31 L448.00,117.34 L448.50,117.37 L449.00,117.40 L449.50,117.43 L450.00,117.47 L450.50,117.51 L451.00,117.55 L451.50,117.58 L452.00,117.63 L452.50,117.67 L453.00,117.71 L453.50,117.75 L454.00,117.80 L454.50,117.84 L455.00,117.89 L455.50,117.93 L456.00,117.98 L456.50,118.03 L457.00,118.07 L457.50,118.12 L458.00,118.17 L458.50,118.22 L459.00,118.26 L459.50,118.31 L460.00,118.36 L460.50,118.41 L461.00,118.45 L461.50,118.50 L462.00,118.55 L462.50,118.59 L463.00,118.64 L463.50,118.68 L464.00,118.72 L464.50,118.77 L465.00,118.81 L465.50,118.85 L466.00,118.89 L466.50,118.93 L467.00,118.97 L467.50,119.01 L468.00,119.05 L468.50,119.08 L469.00,119.12 L469.50,119.15 L470.00,119.19 L470.50,119.22 L471.00,119.25 L471.50,119.28 L472.00,119.31 L472.50,119.34 L473.00,119.37 L473.50,119.39 L474.00,119.42 L474.50,119.44 L475.00,119.47 L475.50,119.49 L476.00,119.51 L476.50,119.53 L477.00,119.56 L477.50,119.57 L478.00,119.59 L478.50,119.61 L479.00,119.63 L479.50,119.64 L480.00,119.66 L480.50,119.67 L481.00,119.69 L481.50,119.70 L482.00,119.71 L482.50,119.72 L483.00,119.74 L483.50,119.75 L484.00,119.76 L484.50,119.77 L485.00,119.78 L485.50,119.78 L486.00,119.79 L486.50,119.80 L487.00,119.81 L487.50,119.81 L488.00,119.82 L488.50,119.83 L489.00,119.83 L489.50,119.84 L490.00,119.84 L490.50,119.84 L491.00,119.85 L491.50,119.85 L492.00,119.86 L492.50,119.86 L493.00,119.86 L493.50,119.87 L494.00,119.87 L494.50,119.87 L495.00,119.87 L495.50,119.88 L496.00,119.88 L496.50,119.88 L497.00,119.88 L497.50,119.88 L498.00,119.88 L498.50,119.89 L499.00,119.89 L499.50,119.89 L500.00,119.89 L500.50,119.89 L501.00,119.89 L501.50,119.89 L502.00,119.89 L502.50,119.89 L503.00,119.89 L503.50,119.89 L504.00,119.90 L504.50,119.90 L505.00,119.90 L505.50,119.90 L506.00,119.90 L506.50,119.90 L507.00,119.90 L507.50,119.90 L508.00,119.90 L508.50,119.90 L509.00,119.90 L509.50,119.90 L510.00,119.90 L510.50,119.90 L511.00,119.90 L511.50,119.90 L512.00,119.90 L512.50,119.90 L513.00,119.90 L513.50,119.90 L514.00,119.90 L514.50,119.90 L515.00,119.90 L515.50,119.90 L516.00,119.90 L516.50,119.90 L517.00,119.90 L517.50,119.90 L518.00,119.90 L518.50,119.90 L519.00,119.90 L519.50,119.90 L520.00,119.90 L520.50,119.90 L521.00,119.90 L521.50,119.90 L522.00,119.90" stroke="#ff9a3c" stroke-width="1.3" fill="none" stroke-linejoin="round"/>
<line x1="438.1" y1="95.9" x2="438.1" y2="110.7" stroke="#ff7f27" stroke-width="1.4" stroke-dasharray="3.2,2.4"/>
<line x1="469.5" y1="84.8" x2="469.5" y2="109.8" stroke="#18d818" stroke-width="1.4" stroke-dasharray="3.2,2.4"/>
<line x1="505.2" y1="89.4" x2="492.8" y2="109.8" stroke="#3ca53c" stroke-width="1.4" stroke-dasharray="3.2,2.4"/>
<text x="402.92" y="28.24" font-family='"Liberation Sans", sans-serif' font-weight="bold" font-size="10.73" fill="#0070C0" stroke="#0070C0" stroke-width="0.2" textLength="22.15" lengthAdjust="spacingAndGlyphs">C 1s</text>
<text x="498.20" y="41.64" font-family='"Liberation Sans", sans-serif' font-weight="bold" font-size="10.73" fill="#0070C0" stroke="#0070C0" stroke-width="0.2" textLength="22.35" lengthAdjust="spacingAndGlyphs"><tspan>C</tspan><tspan fill="#ff1ef0" stroke="#ff1ef0">=C</tspan></text>
<text x="458.95" y="80.04" font-family='"Liberation Sans", sans-serif' font-weight="bold" font-size="11.30" fill="#0070C0" stroke="#0070C0" stroke-width="0.2" textLength="22.21" lengthAdjust="spacingAndGlyphs"><tspan>C</tspan><tspan fill="#18d818" stroke="#18d818">-O</tspan></text>
<text x="500.71" y="88.24" font-family='"Liberation Sans", sans-serif' font-weight="bold" font-size="11.16" fill="#0070C0" stroke="#0070C0" stroke-width="0.2" textLength="6.96" lengthAdjust="spacingAndGlyphs">C</text>
<rect x="509.0" y="84.7" width="3.4" height="1.3" fill="#3ca53c"/>
<text stroke="#3ca53c" stroke-width="0.35" x="513.80" y="88.24" font-family='"Liberation Sans", sans-serif' font-weight="normal" font-size="11.16" fill="#3ca53c" stroke="#3ca53c" stroke-width="0.25" textLength="7.16" lengthAdjust="spacingAndGlyphs">C</text>
<text x="425.84" y="94.00" font-family='"Liberation Sans", sans-serif' font-weight="bold" font-size="9.67" fill="#0070C0" stroke="#0070C0" stroke-width="0.2" textLength="6.18" lengthAdjust="spacingAndGlyphs">π</text>
<rect x="433" y="90.7" width="2.9" height="1.2" fill="#ff7f27"/>
<text x="438.34" y="94.00" font-family='"Liberation Sans", sans-serif' font-weight="bold" font-size="9.67" fill="#ff7f27" stroke="#ff7f27" stroke-width="0.2" textLength="6.07" lengthAdjust="spacingAndGlyphs">π</text>
<text x="444.79" y="91.54" font-family='"Liberation Sans", sans-serif' font-weight="bold" font-size="6.45" fill="#ff7f27" stroke="#ff7f27" stroke-width="0.2" textLength="2.61" lengthAdjust="spacingAndGlyphs">*</text>
<text x="4.37" y="181.82" font-family='"Liberation Sans", sans-serif' font-weight="bold" font-size="17.55" fill="#000" stroke="#000" stroke-width="0.2" textLength="10.91" lengthAdjust="spacingAndGlyphs">d</text>
<rect x="24.8" y="170.9" width="150.00" height="120.30" fill="none" stroke="#7a7a7a" stroke-width="1.3"/>
<path d="M169.13,291.20v2.2M151.80,291.20v2.2M134.47,291.20v2.2M117.13,291.20v2.2M99.80,291.20v2.2M82.46,291.20v2.2M65.13,291.20v2.2M47.80,291.20v2.2M30.46,291.20v2.2" stroke="#7a7a7a" stroke-width="1.1" fill="none"/>
<text x="40.50" y="301.90" font-family='"Liberation Sans", sans-serif' font-weight="normal" font-size="8.80" fill="#1a1a1a" stroke="#1a1a1a" stroke-width="0.25">537</text>
<text x="75.08" y="301.90" font-family='"Liberation Sans", sans-serif' font-weight="normal" font-size="8.80" fill="#1a1a1a" stroke="#1a1a1a" stroke-width="0.25">534</text>
<text x="109.83" y="301.90" font-family='"Liberation Sans", sans-serif' font-weight="normal" font-size="8.80" fill="#1a1a1a" stroke="#1a1a1a" stroke-width="0.25">531</text>
<text x="144.47" y="301.90" font-family='"Liberation Sans", sans-serif' font-weight="normal" font-size="8.80" fill="#1a1a1a" stroke="#1a1a1a" stroke-width="0.25">528</text>
<text x="54.06" y="315.00" font-family='"Liberation Sans", sans-serif' font-weight="normal" font-size="10.20" fill="#1a1a1a" stroke="#1a1a1a" stroke-width="0.25" textLength="91.68" lengthAdjust="spacingAndGlyphs">Binding Energy (eV)</text>
<text transform="translate(13.70,260.55) rotate(-90)" x="0" y="0" font-family='"Liberation Sans", sans-serif' font-weight="normal" font-size="10.00" fill="#1a1a1a" stroke="#1a1a1a" stroke-width="0.25" textLength="65.29" lengthAdjust="spacingAndGlyphs">Intensity (a.u.)</text>
<path d="M48.00,281.00 L48.50,281.00 L49.00,281.00 L49.50,281.00 L50.00,281.00 L50.50,281.00 L51.00,281.00 L51.50,281.00 L52.00,281.00 L52.50,281.00 L53.00,281.00 L53.50,281.00 L54.00,281.00 L54.50,281.00 L55.00,281.00 L55.50,281.00 L56.00,281.00 L56.50,281.00 L57.00,281.00 L57.50,281.00 L58.00,281.00 L58.50,281.00 L59.00,281.00 L59.50,281.00 L60.00,281.00 L60.50,281.00 L61.00,281.00 L61.50,281.00 L62.00,281.00 L62.50,281.00 L63.00,281.00 L63.50,281.00 L64.00,281.00 L64.50,281.00 L65.00,281.00 L65.50,281.00 L66.00,281.00 L66.50,281.00 L67.00,281.00 L67.50,281.00 L68.00,281.00 L68.50,281.00 L69.00,281.00 L69.50,281.00 L70.00,281.00 L70.50,281.00 L71.00,281.00 L71.50,281.00 L72.00,281.00 L72.50,281.00 L73.00,281.00 L73.50,280.99 L74.00,280.99 L74.50,280.99 L75.00,280.99 L75.50,280.98 L76.00,280.98 L76.50,280.97 L77.00,280.96 L77.50,280.95 L78.00,280.93 L78.50,280.91 L79.00,280.89 L79.50,280.86 L80.00,280.82 L80.50,280.78 L81.00,280.72 L81.50,280.66 L82.00,280.58 L82.50,280.49 L83.00,280.39 L83.50,280.26 L84.00,280.12 L84.50,279.97 L85.00,279.79 L85.50,279.59 L86.00,279.36 L86.50,279.12 L87.00,278.86 L87.50,278.57 L88.00,278.27 L88.50,277.95 L89.00,277.61 L89.50,277.26 L90.00,276.91 L90.50,276.55 L91.00,276.19 L91.50,275.83 L92.00,275.48 L92.50,275.14 L93.00,274.82 L93.50,274.52 L94.00,274.24 L94.50,273.98 L95.00,273.74 L95.50,273.52 L96.00,273.33 L96.50,273.15 L97.00,272.98 L97.50,272.82 L98.00,272.66 L98.50,272.48 L99.00,272.29 L99.50,272.07 L100.00,271.81 L100.50,271.50 L101.00,271.14 L101.50,270.70 L102.00,270.20 L102.50,269.60 L103.00,268.92 L103.50,268.15 L104.00,267.28 L104.50,266.32 L105.00,265.26 L105.50,264.11 L106.00,262.88 L106.50,261.58 L107.00,260.21 L107.50,258.79 L108.00,257.34 L108.50,255.87 L109.00,254.39 L109.50,252.93 L110.00,251.50 L110.50,250.12 L111.00,248.80 L111.50,247.57 L112.00,246.43 L112.50,245.40 L113.00,244.48 L113.50,243.67 L114.00,242.99 L114.50,242.41 L115.00,241.95 L115.50,241.59 L116.00,241.31 L116.50,241.10 L117.00,240.94 L117.50,240.81 L118.00,240.71 L118.50,240.59 L119.00,240.46 L119.50,240.29 L120.00,240.06 L120.50,239.77 L121.00,239.38 L121.50,238.89 L122.00,238.27 L122.50,237.51 L123.00,236.59 L123.50,235.48 L124.00,234.18 L124.50,232.67 L125.00,230.93 L125.50,228.97 L126.00,226.79 L126.50,224.40 L127.00,221.82 L127.50,219.07 L128.00,216.21 L128.50,213.25 L129.00,210.26 L129.50,207.28 L130.00,204.37 L130.50,201.57 L131.00,198.94 L131.50,196.54 L132.00,194.41 L132.50,192.59 L133.00,191.12 L133.50,190.03 L134.00,189.35 L134.50,189.10 L135.00,189.28 L135.50,189.90 L136.00,190.96 L136.50,192.44 L137.00,194.33 L137.50,196.60 L138.00,199.21 L138.50,202.15 L139.00,205.35 L139.50,208.80 L140.00,212.43 L140.50,216.21 L141.00,220.09 L141.50,224.02 L142.00,227.98 L142.50,231.90 L143.00,235.77 L143.50,239.54 L144.00,243.20 L144.50,246.70 L145.00,250.04 L145.50,253.19 L146.00,256.15 L146.50,258.91 L147.00,261.46 L147.50,263.81 L148.00,265.95 L148.50,267.89 L149.00,269.63 L149.50,271.20 L150.00,272.59 L150.50,273.82 L151.00,274.91 L151.50,275.85 L152.00,276.67 L152.50,277.38 L153.00,277.99 L153.50,278.51 L154.00,278.95 L154.50,279.32 L155.00,279.63 L155.50,279.89 L156.00,280.10 L156.50,280.28 L157.00,280.42 L157.50,280.54 L158.00,280.64 L158.50,280.72 L159.00,280.78 L159.50,280.83 L160.00,280.87 L160.50,280.90 L161.00,280.92 L161.50,280.94 L162.00,280.95 L162.50,280.97" stroke="#cccccc" stroke-width="1.1" fill="none" stroke-linejoin="round"/>
<path d="M48.00,281.00 L48.50,281.00 L49.00,281.00 L49.50,281.00 L50.00,281.00 L50.50,281.00 L51.00,281.00 L51.50,281.00 L52.00,281.00 L52.50,281.00 L53.00,281.00 L53.50,281.00 L54.00,281.00 L54.50,281.00 L55.00,281.00 L55.50,281.00 L56.00,281.00 L56.50,281.00 L57.00,281.00 L57.50,281.00 L58.00,281.00 L58.50,281.00 L59.00,281.00 L59.50,281.00 L60.00,281.00 L60.50,281.00 L61.00,281.00 L61.50,281.00 L62.00,281.00 L62.50,281.00 L63.00,281.00 L63.50,281.00 L64.00,281.00 L64.50,281.00 L65.00,281.00 L65.50,281.00 L66.00,281.00 L66.50,281.00 L67.00,281.00 L67.50,281.00 L68.00,281.00 L68.50,281.00 L69.00,281.00 L69.50,281.00 L70.00,281.00 L70.50,281.00 L71.00,281.00 L71.50,281.00 L72.00,281.00 L72.50,281.00 L73.00,281.00 L73.50,281.00 L74.00,281.00 L74.50,281.00 L75.00,281.00 L75.50,281.00 L76.00,281.00 L76.50,281.00 L77.00,281.00 L77.50,281.00 L78.00,281.00 L78.50,281.00 L79.00,281.00 L79.50,281.00 L80.00,281.00 L80.50,281.00 L81.00,281.00 L81.50,281.00 L82.00,281.00 L82.50,281.00 L83.00,281.00 L83.50,281.00 L84.00,281.00 L84.50,281.00 L85.00,281.00 L85.50,281.00 L86.00,281.00 L86.50,281.00 L87.00,281.00 L87.50,281.00 L88.00,281.00 L88.50,281.00 L89.00,281.00 L89.50,281.00 L90.00,281.00 L90.50,281.00 L91.00,281.00 L91.50,281.00 L92.00,281.00 L92.50,281.00 L93.00,281.00 L93.50,281.00 L94.00,281.00 L94.50,281.00 L95.00,281.00 L95.50,281.00 L96.00,281.00 L96.50,281.00 L97.00,281.00 L97.50,281.00 L98.00,281.00 L98.50,281.00 L99.00,281.00 L99.50,281.00 L100.00,281.00 L100.50,281.00 L101.00,281.00 L101.50,281.00 L102.00,281.00 L102.50,281.00 L103.00,281.00 L103.50,281.00 L104.00,280.99 L104.50,280.99 L105.00,280.99 L105.50,280.98 L106.00,280.98 L106.50,280.97 L107.00,280.96 L107.50,280.95 L108.00,280.94 L108.50,280.92 L109.00,280.89 L109.50,280.86 L110.00,280.82 L110.50,280.77 L111.00,280.70 L111.50,280.62 L112.00,280.52 L112.50,280.40 L113.00,280.25 L113.50,280.06 L114.00,279.84 L114.50,279.57 L115.00,279.25 L115.50,278.86 L116.00,278.41 L116.50,277.87 L117.00,277.25 L117.50,276.52 L118.00,275.67 L118.50,274.70 L119.00,273.59 L119.50,272.33 L120.00,270.90 L120.50,269.30 L121.00,267.51 L121.50,265.53 L122.00,263.35 L122.50,260.97 L123.00,258.38 L123.50,255.58 L124.00,252.58 L124.50,249.39 L125.00,246.02 L125.50,242.48 L126.00,238.81 L126.50,235.02 L127.00,231.14 L127.50,227.21 L128.00,223.26 L128.50,219.34 L129.00,215.49 L129.50,211.75 L130.00,208.17 L130.50,204.80 L131.00,201.67 L131.50,198.83 L132.00,196.33 L132.50,194.19 L133.00,192.45 L133.50,191.13 L134.00,190.25 L134.50,189.84 L135.00,189.88 L135.50,190.39 L136.00,191.36 L136.50,192.76 L137.00,194.58 L137.50,196.80 L138.00,199.37 L138.50,202.27 L139.00,205.45 L139.50,208.87 L140.00,212.49 L140.50,216.25 L141.00,220.12 L141.50,224.05 L142.00,228.00 L142.50,231.92 L143.00,235.78 L143.50,239.55 L144.00,243.20 L144.50,246.71 L145.00,250.04 L145.50,253.20 L146.00,256.15 L146.50,258.91 L147.00,261.46 L147.50,263.81 L148.00,265.95 L148.50,267.89 L149.00,269.64 L149.50,271.20 L150.00,272.59 L150.50,273.82 L151.00,274.91 L151.50,275.85 L152.00,276.67 L152.50,277.38 L153.00,277.99 L153.50,278.51 L154.00,278.95 L154.50,279.32 L155.00,279.63 L155.50,279.89 L156.00,280.10 L156.50,280.28 L157.00,280.42 L157.50,280.54 L158.00,280.64 L158.50,280.72 L159.00,280.78 L159.50,280.83 L160.00,280.87 L160.50,280.90 L161.00,280.92 L161.50,280.94 L162.00,280.95 L162.50,280.97" stroke="#ff3434" stroke-width="1.25" fill="none" stroke-linejoin="round"/>
<path d="M80.00,280.82 L80.50,280.78 L81.00,280.72 L81.50,280.66 L82.00,280.58 L82.50,280.49 L83.00,280.39 L83.50,280.27 L84.00,280.13 L84.50,279.97 L85.00,279.79 L85.50,279.59 L86.00,279.37 L86.50,279.13 L87.00,278.87 L87.50,278.59 L88.00,278.29 L88.50,277.98 L89.00,277.65 L89.50,277.31 L90.00,276.97 L90.50,276.63 L91.00,276.30 L91.50,275.97 L92.00,275.66 L92.50,275.37 L93.00,275.10 L93.50,274.87 L94.00,274.67 L94.50,274.51 L95.00,274.39 L95.50,274.32 L96.00,274.30 L96.50,274.32 L97.00,274.39 L97.50,274.51 L98.00,274.67 L98.50,274.87 L99.00,275.10 L99.50,275.37 L100.00,275.66 L100.50,275.97 L101.00,276.30 L101.50,276.63 L102.00,276.97 L102.50,277.31 L103.00,277.65 L103.50,277.98 L104.00,278.29 L104.50,278.59 L105.00,278.87 L105.50,279.13 L106.00,279.37 L106.50,279.59 L107.00,279.79 L107.50,279.97 L108.00,280.13 L108.50,280.27 L109.00,280.39 L109.50,280.49 L110.00,280.58 L110.50,280.66 L111.00,280.72 L111.50,280.78 L112.00,280.82 L112.50,280.86 L113.00,280.89 L113.50,280.91 L114.00,280.93 L114.50,280.95 L115.00,280.96 L115.50,280.97 L116.00,280.98 L116.50,280.98 L117.00,280.99 L117.50,280.99 L118.00,280.99 L118.50,280.99 L119.00,281.00 L119.50,281.00 L120.00,281.00 L120.50,281.00 L121.00,281.00 L121.50,281.00 L122.00,281.00 L122.50,281.00 L123.00,281.00 L123.50,281.00 L124.00,281.00 L124.50,281.00 L125.00,281.00 L125.50,281.00 L126.00,281.00 L126.50,281.00 L127.00,281.00 L127.50,281.00 L128.00,281.00 L128.50,281.00 L129.00,281.00 L129.50,281.00 L130.00,281.00 L130.50,281.00 L131.00,281.00 L131.50,281.00 L132.00,281.00 L132.50,281.00 L133.00,281.00 L133.50,281.00 L134.00,281.00 L134.50,281.00 L135.00,281.00 L135.50,281.00 L136.00,281.00 L136.50,281.00 L137.00,281.00 L137.50,281.00 L138.00,281.00 L138.50,281.00 L139.00,281.00 L139.50,281.00 L140.00,281.00 L140.50,281.00 L141.00,281.00 L141.50,281.00 L142.00,281.00 L142.50,281.00 L143.00,281.00 L143.50,281.00 L144.00,281.00 L144.50,281.00 L145.00,281.00 L145.50,281.00 L146.00,281.00 L146.50,281.00 L147.00,281.00 L147.50,281.00 L148.00,281.00 L148.50,281.00 L149.00,281.00 L149.50,281.00 L150.00,281.00 L150.50,281.00 L151.00,281.00 L151.50,281.00 L152.00,281.00 L152.50,281.00 L153.00,281.00 L153.50,281.00 L154.00,281.00 L154.50,281.00 L155.00,281.00 L155.50,281.00 L156.00,281.00 L156.50,281.00 L157.00,281.00 L157.50,281.00 L158.00,281.00 L158.50,281.00 L159.00,281.00 L159.50,281.00 L160.00,281.00" stroke="#22e022" stroke-width="1.25" fill="none" stroke-linejoin="round"/>
<path d="M80.00,281.00 L80.50,281.00 L81.00,281.00 L81.50,281.00 L82.00,281.00 L82.50,281.00 L83.00,281.00 L83.50,281.00 L84.00,281.00 L84.50,281.00 L85.00,281.00 L85.50,280.99 L86.00,280.99 L86.50,280.99 L87.00,280.99 L87.50,280.98 L88.00,280.98 L88.50,280.97 L89.00,280.96 L89.50,280.95 L90.00,280.93 L90.50,280.91 L91.00,280.89 L91.50,280.86 L92.00,280.82 L92.50,280.78 L93.00,280.72 L93.50,280.65 L94.00,280.57 L94.50,280.47 L95.00,280.35 L95.50,280.20 L96.00,280.03 L96.50,279.83 L97.00,279.59 L97.50,279.31 L98.00,278.99 L98.50,278.62 L99.00,278.19 L99.50,277.70 L100.00,277.15 L100.50,276.53 L101.00,275.84 L101.50,275.07 L102.00,274.22 L102.50,273.29 L103.00,272.28 L103.50,271.18 L104.00,270.00 L104.50,268.74 L105.00,267.40 L105.50,266.00 L106.00,264.53 L106.50,263.01 L107.00,261.46 L107.50,259.87 L108.00,258.28 L108.50,256.69 L109.00,255.11 L109.50,253.58 L110.00,252.10 L110.50,250.70 L111.00,249.40 L111.50,248.20 L112.00,247.13 L112.50,246.20 L113.00,245.43 L113.50,244.83 L114.00,244.40 L114.50,244.16 L115.00,244.10 L115.50,244.24 L116.00,244.55 L116.50,245.05 L117.00,245.72 L117.50,246.55 L118.00,247.54 L118.50,248.66 L119.00,249.91 L119.50,251.25 L120.00,252.69 L120.50,254.19 L121.00,255.74 L121.50,257.32 L122.00,258.92 L122.50,260.51 L123.00,262.08 L123.50,263.63 L124.00,265.12 L124.50,266.56 L125.00,267.94 L125.50,269.25 L126.00,270.48 L126.50,271.63 L127.00,272.69 L127.50,273.67 L128.00,274.57 L128.50,275.39 L129.00,276.13 L129.50,276.79 L130.00,277.38 L130.50,277.90 L131.00,278.37 L131.50,278.77 L132.00,279.12 L132.50,279.43 L133.00,279.69 L133.50,279.91 L134.00,280.10 L134.50,280.26 L135.00,280.40 L135.50,280.51 L136.00,280.60 L136.50,280.68 L137.00,280.74 L137.50,280.80 L138.00,280.84 L138.50,280.87 L139.00,280.90 L139.50,280.92 L140.00,280.94 L140.50,280.95 L141.00,280.96 L141.50,280.97 L142.00,280.98 L142.50,280.98 L143.00,280.99 L143.50,280.99 L144.00,280.99 L144.50,281.00 L145.00,281.00 L145.50,281.00 L146.00,281.00 L146.50,281.00 L147.00,281.00 L147.50,281.00 L148.00,281.00 L148.50,281.00 L149.00,281.00 L149.50,281.00 L150.00,281.00 L150.50,281.00 L151.00,281.00 L151.50,281.00 L152.00,281.00 L152.50,281.00 L153.00,281.00 L153.50,281.00 L154.00,281.00 L154.50,281.00 L155.00,281.00 L155.50,281.00 L156.00,281.00 L156.50,281.00 L157.00,281.00 L157.50,281.00 L158.00,281.00 L158.50,281.00 L159.00,281.00 L159.50,281.00 L160.00,281.00" stroke="#1f7fe6" stroke-width="1.25" fill="none" stroke-linejoin="round"/>
<line x1="106.1" y1="200.5" x2="124.0" y2="208.8" stroke="#ff2020" stroke-width="1.4" stroke-dasharray="3.2,2.4"/>
<line x1="88.5" y1="228.3" x2="106.5" y2="242.4" stroke="#3a9ae0" stroke-width="1.4" stroke-dasharray="3.2,2.4"/>
<line x1="64.6" y1="255.4" x2="88.7" y2="276.1" stroke="#22e022" stroke-width="1.4" stroke-dasharray="3.2,2.4"/>
<text x="39.79" y="194.39" font-family='"Liberation Sans", sans-serif' font-weight="normal" font-size="11.16" fill="#0070C0" stroke="#0070C0" stroke-width="0.45" textLength="23.11" lengthAdjust="spacingAndGlyphs">O 1s</text>
<text x="80.71" y="198.60" font-family='"Liberation Sans", sans-serif' font-weight="bold" font-size="11.32" textLength="45.31" lengthAdjust="spacingAndGlyphs"><tspan fill="#ff1010" stroke="#ff1010" stroke-width="0.2">529.5 eV</tspan></text>
<text x="62.91" y="220.40" font-family='"Liberation Sans", sans-serif' font-weight="bold" font-size="11.37" textLength="45.51" lengthAdjust="spacingAndGlyphs"><tspan fill="#1f78e0" stroke="#1f78e0" stroke-width="0.2">531.3 eV</tspan></text>
<text x="39.51" y="248.00" font-family='"Liberation Sans", sans-serif' font-weight="bold" font-size="11.42" textLength="45.72" lengthAdjust="spacingAndGlyphs"><tspan fill="#1ee01e" stroke="#1ee01e" stroke-width="0.2">532.9 eV</tspan></text>
<text x="184.98" y="183.93" font-family='"Liberation Sans", sans-serif' font-weight="bold" font-size="16.97" fill="#000" stroke="#000" stroke-width="0.2" textLength="10.25" lengthAdjust="spacingAndGlyphs">e</text>
<rect x="205.8" y="172.6" width="149.70" height="120.00" fill="none" stroke="#7a7a7a" stroke-width="1.3"/>
<path d="M340.75,292.60v2.2M325.75,292.60v2.2M310.75,292.60v2.2M295.75,292.60v2.2M280.75,292.60v2.2M265.75,292.60v2.2M250.75,292.60v2.2M235.75,292.60v2.2M220.75,292.60v2.2" stroke="#7a7a7a" stroke-width="1.1" fill="none"/>
<text x="213.38" y="303.00" font-family='"Liberation Sans", sans-serif' font-weight="normal" font-size="8.80" fill="#1a1a1a" stroke="#1a1a1a" stroke-width="0.25">910</text>
<text x="243.38" y="303.00" font-family='"Liberation Sans", sans-serif' font-weight="normal" font-size="8.80" fill="#1a1a1a" stroke="#1a1a1a" stroke-width="0.25">900</text>
<text x="273.39" y="303.00" font-family='"Liberation Sans", sans-serif' font-weight="normal" font-size="8.80" fill="#1a1a1a" stroke="#1a1a1a" stroke-width="0.25">890</text>
<text x="303.39" y="303.00" font-family='"Liberation Sans", sans-serif' font-weight="normal" font-size="8.80" fill="#1a1a1a" stroke="#1a1a1a" stroke-width="0.25">880</text>
<text x="333.39" y="303.00" font-family='"Liberation Sans", sans-serif' font-weight="normal" font-size="8.80" fill="#1a1a1a" stroke="#1a1a1a" stroke-width="0.25">870</text>
<text x="235.55" y="315.50" font-family='"Liberation Sans", sans-serif' font-weight="normal" font-size="10.20" fill="#1a1a1a" stroke="#1a1a1a" stroke-width="0.25" textLength="90.79" lengthAdjust="spacingAndGlyphs">Binding Energy (ev)</text>
<text transform="translate(194.60,247.84) rotate(-90)" x="0" y="0" font-family='"Liberation Sans", sans-serif' font-weight="normal" font-size="10.00" fill="#1a1a1a" stroke="#1a1a1a" stroke-width="0.25" textLength="38.16" lengthAdjust="spacingAndGlyphs">Intensity</text>
<path d="M218.40,279.85 L219.40,280.54 L220.40,280.24 L221.40,281.02 L222.40,278.75 L223.40,277.59 L224.40,276.00 L225.40,274.99 L226.40,273.07 L227.40,272.00 L228.40,271.25 L229.40,267.92 L230.40,265.96 L231.40,262.63 L232.40,260.30 L233.40,255.83 L234.40,249.95 L235.40,243.90 L236.40,234.72 L237.40,229.71 L238.40,224.47 L239.40,220.56 L240.40,218.69 L241.40,221.58 L242.40,225.92 L243.40,229.06 L244.40,230.46 L245.40,232.63 L246.40,234.16 L247.40,234.02 L248.40,231.82 L249.40,227.38 L250.40,225.60 L251.40,221.95 L252.40,221.99 L253.40,227.00 L254.40,232.74 L255.40,241.59 L256.40,248.89 L257.40,257.89 L258.40,265.25 L259.40,267.52 L260.40,270.49 L261.40,272.27 L262.40,271.03 L263.40,270.18 L264.40,269.43 L265.40,267.90 L266.40,269.27 L267.40,267.70 L268.40,267.18 L269.40,268.27 L270.40,269.37 L271.40,270.86 L272.40,272.08 L273.40,275.54 L274.40,275.06 L275.40,278.00 L276.40,277.52 L277.40,279.00 L278.40,277.10 L279.40,277.40 L280.40,279.12 L281.40,277.80 L282.40,279.58 L283.40,278.08 L284.40,276.33 L285.40,274.29 L286.40,268.43 L287.40,260.51 L288.40,253.86 L289.40,241.07 L290.40,228.97 L291.40,213.85 L292.40,202.20 L293.40,192.05 L294.40,186.40 L295.40,186.38 L296.40,192.51 L297.40,198.80 L298.40,210.69 L299.40,217.05 L300.40,219.92 L301.40,220.07 L302.40,216.74 L303.40,213.42 L304.40,210.81 L305.40,206.03 L306.40,202.08 L307.40,197.99 L308.40,200.29 L309.40,208.02 L310.40,219.88 L311.40,231.95 L312.40,245.55 L313.40,256.33 L314.40,264.46 L315.40,271.98 L316.40,275.70 L317.40,276.31 L318.40,278.83 L319.40,281.40 L320.40,280.89 L321.40,280.64 L322.40,280.27 L323.40,281.26 L324.40,281.89 L325.40,282.12 L326.40,281.09 L327.40,281.41 L328.40,282.12 L329.40,281.90 L330.40,282.12 L331.40,281.24 L332.40,282.40 L333.40,281.49 L334.40,281.22" stroke="#606060" stroke-width="0.75" fill="none" stroke-linejoin="round"/>
<path d="M218.40,281.94 L218.90,281.92 L219.40,281.90 L219.90,281.88 L220.40,281.86 L220.90,281.84 L221.40,281.81 L221.90,281.78 L222.40,281.74 L222.90,281.69 L223.40,281.63 L223.90,281.56 L224.40,281.47 L224.90,281.36 L225.40,281.21 L225.90,281.03 L226.40,280.79 L226.90,280.48 L227.40,280.08 L227.90,279.58 L228.40,278.96 L228.90,278.18 L229.40,277.22 L229.90,276.06 L230.40,274.66 L230.90,273.00 L231.40,271.06 L231.90,268.82 L232.40,266.27 L232.90,263.41 L233.40,260.25 L233.90,256.83 L234.40,253.17 L234.90,249.33 L235.40,245.39 L235.90,241.41 L236.40,237.51 L236.90,233.79 L237.40,230.34 L237.90,227.30 L238.40,224.75 L238.90,222.81 L239.40,221.54 L239.90,221.02 L240.40,221.24 L240.90,222.22 L241.40,223.90 L241.90,226.21 L242.40,229.07 L242.90,232.37 L243.40,236.00 L243.90,239.84 L244.40,243.79 L244.90,247.76 L245.40,251.65 L245.90,255.39 L246.40,258.91 L246.90,262.18 L247.40,265.16 L247.90,267.83 L248.40,270.20 L248.90,272.26 L249.40,274.03 L249.90,275.53 L250.40,276.78 L250.90,277.82 L251.40,278.66 L251.90,279.35 L252.40,279.90 L252.90,280.33 L253.40,280.67 L253.90,280.94 L254.40,281.15 L254.90,281.31 L255.40,281.43 L255.90,281.53 L256.40,281.61 L256.90,281.67 L257.40,281.72 L257.90,281.76 L258.40,281.80 L258.90,281.83 L259.40,281.85 L259.90,281.88 L260.40,281.90 L260.90,281.91 L261.40,281.93 L261.90,281.95 L262.40,281.96 L262.90,281.98 L263.40,281.99 L263.90,282.00 L264.40,282.01 L264.90,282.02 L265.40,282.03 L265.90,282.04 L266.40,282.05 L266.90,282.06 L267.40,282.07 L267.90,282.08 L268.40,282.09 L268.90,282.09 L269.40,282.10 L269.90,282.11 L270.40,282.11 L270.90,282.12 L271.40,282.12 L271.90,282.13 L272.40,282.13 L272.90,282.14 L273.40,282.14 L273.90,282.15 L274.40,282.15 L274.90,282.16 L275.40,282.16 L275.90,282.16 L276.40,282.17 L276.90,282.17 L277.40,282.17 L277.90,282.18 L278.40,282.18 L278.90,282.18 L279.40,282.19 L279.90,282.19 L280.40,282.19 L280.90,282.19 L281.40,282.20 L281.90,282.20 L282.40,282.20 L282.90,282.20 L283.40,282.21 L283.90,282.21 L284.40,282.21 L284.90,282.21 L285.40,282.21 L285.90,282.22 L286.40,282.22 L286.90,282.22 L287.40,282.22 L287.90,282.22 L288.40,282.22 L288.90,282.23 L289.40,282.23 L289.90,282.23 L290.40,282.23 L290.90,282.23 L291.40,282.23 L291.90,282.23 L292.40,282.24 L292.90,282.24 L293.40,282.24 L293.90,282.24 L294.40,282.24 L294.90,282.24 L295.40,282.24 L295.90,282.24 L296.40,282.24 L296.90,282.25 L297.40,282.25 L297.90,282.25 L298.40,282.25 L298.90,282.25 L299.40,282.25 L299.90,282.25 L300.40,282.25 L300.90,282.25 L301.40,282.25 L301.90,282.25 L302.40,282.25 L302.90,282.26 L303.40,282.26 L303.90,282.26 L304.40,282.26 L304.90,282.26 L305.40,282.26 L305.90,282.26 L306.40,282.26 L306.90,282.26 L307.40,282.26 L307.90,282.26 L308.40,282.26 L308.90,282.26 L309.40,282.26 L309.90,282.26 L310.40,282.26 L310.90,282.26 L311.40,282.27 L311.90,282.27 L312.40,282.27 L312.90,282.27 L313.40,282.27 L313.90,282.27 L314.40,282.27 L314.90,282.27 L315.40,282.27 L315.90,282.27 L316.40,282.27 L316.90,282.27 L317.40,282.27 L317.90,282.27 L318.40,282.27 L318.90,282.27 L319.40,282.27 L319.90,282.27 L320.40,282.27 L320.90,282.27 L321.40,282.27 L321.90,282.27 L322.40,282.27 L322.90,282.27 L323.40,282.27 L323.90,282.27 L324.40,282.28 L324.90,282.28 L325.40,282.28 L325.90,282.28 L326.40,282.28 L326.90,282.28 L327.40,282.28 L327.90,282.28 L328.40,282.28 L328.90,282.28 L329.40,282.28 L329.90,282.28 L330.40,282.28 L330.90,282.28 L331.40,282.28 L331.90,282.28 L332.40,282.28 L332.90,282.28 L333.40,282.28 L333.90,282.28 L334.40,282.28" stroke="#ff10ee" stroke-width="1.15" fill="none" stroke-linejoin="round"/>
<path d="M218.40,282.21 L218.90,282.20 L219.40,282.20 L219.90,282.20 L220.40,282.20 L220.90,282.19 L221.40,282.19 L221.90,282.19 L222.40,282.18 L222.90,282.18 L223.40,282.17 L223.90,282.17 L224.40,282.16 L224.90,282.16 L225.40,282.15 L225.90,282.15 L226.40,282.14 L226.90,282.14 L227.40,282.13 L227.90,282.12 L228.40,282.12 L228.90,282.11 L229.40,282.10 L229.90,282.09 L230.40,282.08 L230.90,282.07 L231.40,282.06 L231.90,282.05 L232.40,282.04 L232.90,282.02 L233.40,282.01 L233.90,282.00 L234.40,281.98 L234.90,281.96 L235.40,281.94 L235.90,281.92 L236.40,281.89 L236.90,281.87 L237.40,281.83 L237.90,281.79 L238.40,281.74 L238.90,281.68 L239.40,281.60 L239.90,281.49 L240.40,281.33 L240.90,281.13 L241.40,280.84 L241.90,280.45 L242.40,279.93 L242.90,279.23 L243.40,278.30 L243.90,277.11 L244.40,275.59 L244.90,273.70 L245.40,271.38 L245.90,268.62 L246.40,265.39 L246.90,261.72 L247.40,257.63 L247.90,253.20 L248.40,248.55 L248.90,243.81 L249.40,239.17 L249.90,234.82 L250.40,230.96 L250.90,227.80 L251.40,225.54 L251.90,224.30 L252.40,224.19 L252.90,225.20 L253.40,227.27 L253.90,230.26 L254.40,234.00 L254.90,238.27 L255.40,242.87 L255.90,247.60 L256.40,252.28 L256.90,256.76 L257.40,260.93 L257.90,264.69 L258.40,268.01 L258.90,270.87 L259.40,273.27 L259.90,275.24 L260.40,276.83 L260.90,278.09 L261.40,279.06 L261.90,279.80 L262.40,280.36 L262.90,280.77 L263.40,281.08 L263.90,281.30 L264.40,281.46 L264.90,281.58 L265.40,281.67 L265.90,281.73 L266.40,281.78 L266.90,281.83 L267.40,281.86 L267.90,281.89 L268.40,281.91 L268.90,281.94 L269.40,281.96 L269.90,281.98 L270.40,281.99 L270.90,282.01 L271.40,282.02 L271.90,282.04 L272.40,282.05 L272.90,282.06 L273.40,282.07 L273.90,282.08 L274.40,282.09 L274.90,282.10 L275.40,282.11 L275.90,282.11 L276.40,282.12 L276.90,282.13 L277.40,282.14 L277.90,282.14 L278.40,282.15 L278.90,282.15 L279.40,282.16 L279.90,282.16 L280.40,282.17 L280.90,282.17 L281.40,282.18 L281.90,282.18 L282.40,282.18 L282.90,282.19 L283.40,282.19 L283.90,282.19 L284.40,282.20 L284.90,282.20 L285.40,282.20 L285.90,282.21 L286.40,282.21 L286.90,282.21 L287.40,282.21 L287.90,282.22 L288.40,282.22 L288.90,282.22 L289.40,282.22 L289.90,282.23 L290.40,282.23 L290.90,282.23 L291.40,282.23 L291.90,282.23 L292.40,282.23 L292.90,282.24 L293.40,282.24 L293.90,282.24 L294.40,282.24 L294.90,282.24 L295.40,282.24 L295.90,282.24 L296.40,282.25 L296.90,282.25 L297.40,282.25 L297.90,282.25 L298.40,282.25 L298.90,282.25 L299.40,282.25 L299.90,282.25 L300.40,282.25 L300.90,282.25 L301.40,282.26 L301.90,282.26 L302.40,282.26 L302.90,282.26 L303.40,282.26 L303.90,282.26 L304.40,282.26 L304.90,282.26 L305.40,282.26 L305.90,282.26 L306.40,282.26 L306.90,282.26 L307.40,282.26 L307.90,282.27 L308.40,282.27 L308.90,282.27 L309.40,282.27 L309.90,282.27 L310.40,282.27 L310.90,282.27 L311.40,282.27 L311.90,282.27 L312.40,282.27 L312.90,282.27 L313.40,282.27 L313.90,282.27 L314.40,282.27 L314.90,282.27 L315.40,282.27 L315.90,282.27 L316.40,282.27 L316.90,282.27 L317.40,282.27 L317.90,282.28 L318.40,282.28 L318.90,282.28 L319.40,282.28 L319.90,282.28 L320.40,282.28 L320.90,282.28 L321.40,282.28 L321.90,282.28 L322.40,282.28 L322.90,282.28 L323.40,282.28 L323.90,282.28 L324.40,282.28 L324.90,282.28 L325.40,282.28 L325.90,282.28 L326.40,282.28 L326.90,282.28 L327.40,282.28 L327.90,282.28 L328.40,282.28 L328.90,282.28 L329.40,282.28 L329.90,282.28 L330.40,282.28 L330.90,282.28 L331.40,282.28 L331.90,282.28 L332.40,282.28 L332.90,282.28 L333.40,282.28 L333.90,282.28 L334.40,282.28" stroke="#16e6e6" stroke-width="1.15" fill="none" stroke-linejoin="round"/>
<path d="M218.40,282.26 L218.90,282.26 L219.40,282.26 L219.90,282.26 L220.40,282.26 L220.90,282.26 L221.40,282.26 L221.90,282.26 L222.40,282.26 L222.90,282.26 L223.40,282.26 L223.90,282.25 L224.40,282.25 L224.90,282.25 L225.40,282.25 L225.90,282.25 L226.40,282.25 L226.90,282.25 L227.40,282.25 L227.90,282.25 L228.40,282.25 L228.90,282.25 L229.40,282.25 L229.90,282.25 L230.40,282.25 L230.90,282.24 L231.40,282.24 L231.90,282.24 L232.40,282.24 L232.90,282.24 L233.40,282.24 L233.90,282.24 L234.40,282.24 L234.90,282.24 L235.40,282.24 L235.90,282.23 L236.40,282.23 L236.90,282.23 L237.40,282.23 L237.90,282.23 L238.40,282.23 L238.90,282.23 L239.40,282.23 L239.90,282.23 L240.40,282.22 L240.90,282.22 L241.40,282.22 L241.90,282.22 L242.40,282.22 L242.90,282.22 L243.40,282.21 L243.90,282.21 L244.40,282.21 L244.90,282.21 L245.40,282.21 L245.90,282.21 L246.40,282.20 L246.90,282.20 L247.40,282.20 L247.90,282.20 L248.40,282.20 L248.90,282.19 L249.40,282.19 L249.90,282.19 L250.40,282.19 L250.90,282.18 L251.40,282.18 L251.90,282.18 L252.40,282.18 L252.90,282.17 L253.40,282.17 L253.90,282.17 L254.40,282.16 L254.90,282.16 L255.40,282.16 L255.90,282.15 L256.40,282.15 L256.90,282.14 L257.40,282.14 L257.90,282.14 L258.40,282.13 L258.90,282.13 L259.40,282.12 L259.90,282.12 L260.40,282.11 L260.90,282.11 L261.40,282.10 L261.90,282.10 L262.40,282.09 L262.90,282.08 L263.40,282.08 L263.90,282.07 L264.40,282.06 L264.90,282.05 L265.40,282.04 L265.90,282.04 L266.40,282.03 L266.90,282.02 L267.40,282.01 L267.90,282.00 L268.40,281.99 L268.90,281.97 L269.40,281.96 L269.90,281.95 L270.40,281.93 L270.90,281.92 L271.40,281.90 L271.90,281.89 L272.40,281.87 L272.90,281.85 L273.40,281.83 L273.90,281.81 L274.40,281.79 L274.90,281.76 L275.40,281.73 L275.90,281.71 L276.40,281.67 L276.90,281.64 L277.40,281.60 L277.90,281.55 L278.40,281.50 L278.90,281.43 L279.40,281.35 L279.90,281.25 L280.40,281.13 L280.90,280.97 L281.40,280.75 L281.90,280.47 L282.40,280.10 L282.90,279.60 L283.40,278.96 L283.90,278.13 L284.40,277.06 L284.90,275.69 L285.40,273.99 L285.90,271.88 L286.40,269.31 L286.90,266.23 L287.40,262.60 L287.90,258.40 L288.40,253.61 L288.90,248.26 L289.40,242.39 L289.90,236.10 L290.40,229.49 L290.90,222.73 L291.40,215.98 L291.90,209.45 L292.40,203.38 L292.90,197.98 L293.40,193.49 L293.90,190.11 L294.40,188.01 L294.90,187.30 L295.40,188.01 L295.90,190.11 L296.40,193.49 L296.90,197.98 L297.40,203.38 L297.90,209.45 L298.40,215.98 L298.90,222.73 L299.40,229.49 L299.90,236.10 L300.40,242.39 L300.90,248.26 L301.40,253.61 L301.90,258.40 L302.40,262.60 L302.90,266.23 L303.40,269.31 L303.90,271.88 L304.40,273.99 L304.90,275.69 L305.40,277.06 L305.90,278.13 L306.40,278.96 L306.90,279.60 L307.40,280.10 L307.90,280.47 L308.40,280.75 L308.90,280.97 L309.40,281.13 L309.90,281.25 L310.40,281.35 L310.90,281.43 L311.40,281.50 L311.90,281.55 L312.40,281.60 L312.90,281.64 L313.40,281.67 L313.90,281.71 L314.40,281.73 L314.90,281.76 L315.40,281.79 L315.90,281.81 L316.40,281.83 L316.90,281.85 L317.40,281.87 L317.90,281.89 L318.40,281.90 L318.90,281.92 L319.40,281.93 L319.90,281.95 L320.40,281.96 L320.90,281.97 L321.40,281.99 L321.90,282.00 L322.40,282.01 L322.90,282.02 L323.40,282.03 L323.90,282.04 L324.40,282.04 L324.90,282.05 L325.40,282.06 L325.90,282.07 L326.40,282.08 L326.90,282.08 L327.40,282.09 L327.90,282.10 L328.40,282.10 L328.90,282.11 L329.40,282.11 L329.90,282.12 L330.40,282.12 L330.90,282.13 L331.40,282.13 L331.90,282.14 L332.40,282.14 L332.90,282.14 L333.40,282.15 L333.90,282.15 L334.40,282.16" stroke="#22e022" stroke-width="1.15" fill="none" stroke-linejoin="round"/>
<path d="M218.40,282.28 L218.90,282.28 L219.40,282.28 L219.90,282.28 L220.40,282.28 L220.90,282.28 L221.40,282.28 L221.90,282.28 L222.40,282.28 L222.90,282.28 L223.40,282.28 L223.90,282.28 L224.40,282.28 L224.90,282.28 L225.40,282.28 L225.90,282.28 L226.40,282.28 L226.90,282.28 L227.40,282.28 L227.90,282.27 L228.40,282.27 L228.90,282.27 L229.40,282.27 L229.90,282.27 L230.40,282.27 L230.90,282.27 L231.40,282.27 L231.90,282.27 L232.40,282.27 L232.90,282.27 L233.40,282.27 L233.90,282.27 L234.40,282.27 L234.90,282.27 L235.40,282.27 L235.90,282.27 L236.40,282.27 L236.90,282.27 L237.40,282.27 L237.90,282.27 L238.40,282.27 L238.90,282.27 L239.40,282.27 L239.90,282.27 L240.40,282.26 L240.90,282.26 L241.40,282.26 L241.90,282.26 L242.40,282.26 L242.90,282.26 L243.40,282.26 L243.90,282.26 L244.40,282.26 L244.90,282.26 L245.40,282.26 L245.90,282.26 L246.40,282.26 L246.90,282.26 L247.40,282.26 L247.90,282.26 L248.40,282.25 L248.90,282.25 L249.40,282.25 L249.90,282.25 L250.40,282.25 L250.90,282.25 L251.40,282.25 L251.90,282.25 L252.40,282.25 L252.90,282.25 L253.40,282.25 L253.90,282.24 L254.40,282.24 L254.90,282.24 L255.40,282.24 L255.90,282.24 L256.40,282.24 L256.90,282.24 L257.40,282.24 L257.90,282.24 L258.40,282.23 L258.90,282.23 L259.40,282.23 L259.90,282.23 L260.40,282.23 L260.90,282.23 L261.40,282.23 L261.90,282.22 L262.40,282.22 L262.90,282.22 L263.40,282.22 L263.90,282.22 L264.40,282.21 L264.90,282.21 L265.40,282.21 L265.90,282.21 L266.40,282.21 L266.90,282.20 L267.40,282.20 L267.90,282.20 L268.40,282.20 L268.90,282.19 L269.40,282.19 L269.90,282.19 L270.40,282.19 L270.90,282.18 L271.40,282.18 L271.90,282.18 L272.40,282.17 L272.90,282.17 L273.40,282.17 L273.90,282.16 L274.40,282.16 L274.90,282.15 L275.40,282.15 L275.90,282.14 L276.40,282.14 L276.90,282.13 L277.40,282.13 L277.90,282.12 L278.40,282.12 L278.90,282.11 L279.40,282.10 L279.90,282.10 L280.40,282.09 L280.90,282.08 L281.40,282.07 L281.90,282.06 L282.40,282.06 L282.90,282.05 L283.40,282.04 L283.90,282.02 L284.40,282.01 L284.90,282.00 L285.40,281.99 L285.90,281.97 L286.40,281.96 L286.90,281.94 L287.40,281.92 L287.90,281.91 L288.40,281.89 L288.90,281.87 L289.40,281.84 L289.90,281.82 L290.40,281.79 L290.90,281.76 L291.40,281.72 L291.90,281.69 L292.40,281.64 L292.90,281.59 L293.40,281.52 L293.90,281.44 L294.40,281.33 L294.90,281.18 L295.40,280.99 L295.90,280.72 L296.40,280.36 L296.90,279.87 L297.40,279.20 L297.90,278.32 L298.40,277.16 L298.90,275.65 L299.40,273.74 L299.90,271.34 L300.40,268.40 L300.90,264.87 L301.40,260.71 L301.90,255.92 L302.40,250.54 L302.90,244.64 L303.40,238.34 L303.90,231.80 L304.40,225.24 L304.90,218.88 L305.40,213.01 L305.90,207.90 L306.40,203.82 L306.90,201.00 L307.40,199.62 L307.90,199.78 L308.40,201.45 L308.90,204.54 L309.40,208.85 L309.90,214.13 L310.40,220.12 L310.90,226.54 L311.40,233.12 L311.90,239.63 L312.40,245.86 L312.90,251.66 L313.40,256.93 L313.90,261.59 L314.40,265.62 L314.90,269.04 L315.40,271.86 L315.90,274.16 L316.40,275.99 L316.90,277.42 L317.40,278.52 L317.90,279.35 L318.40,279.98 L318.90,280.44 L319.40,280.78 L319.90,281.03 L320.40,281.21 L320.90,281.35 L321.40,281.45 L321.90,281.53 L322.40,281.60 L322.90,281.65 L323.40,281.69 L323.90,281.73 L324.40,281.77 L324.90,281.80 L325.40,281.82 L325.90,281.85 L326.40,281.87 L326.90,281.89 L327.40,281.91 L327.90,281.93 L328.40,281.95 L328.90,281.96 L329.40,281.98 L329.90,281.99 L330.40,282.00 L330.90,282.01 L331.40,282.03 L331.90,282.04 L332.40,282.05 L332.90,282.06 L333.40,282.07 L333.90,282.07 L334.40,282.08" stroke="#ff3838" stroke-width="1.15" fill="none" stroke-linejoin="round"/>
<text x="215.09" y="192.50" font-family='"Liberation Sans", sans-serif' font-weight="bold" font-size="11.16" textLength="30.40" lengthAdjust="spacingAndGlyphs"><tspan fill="#0070C0" stroke="#0070C0" stroke-width="0.2">Ce 3d</tspan></text>
<text x="226.50" y="214.00" font-family='"Liberation Sans", sans-serif' font-weight="bold" font-size="10.93" textLength="29.77" lengthAdjust="spacingAndGlyphs"><tspan fill="#ff10ee" stroke="#ff10ee" stroke-width="0.2">Ce 3d</tspan></text>
<text x="256.55" y="216.45" font-family='"Liberation Sans", sans-serif' font-weight="bold" font-size="7.38" fill="#ff10ee" stroke="#ff10ee" stroke-width="0.2" textLength="11.79" lengthAdjust="spacingAndGlyphs">5/2</text>
<text x="278.89" y="185.70" font-family='"Liberation Sans", sans-serif' font-weight="bold" font-size="11.12" textLength="30.29" lengthAdjust="spacingAndGlyphs"><tspan fill="#18e018" stroke="#18e018" stroke-width="0.2">Ce 3d</tspan></text>
<text x="309.41" y="188.46" font-family='"Liberation Sans", sans-serif' font-weight="bold" font-size="6.85" fill="#18e018" stroke="#18e018" stroke-width="0.2" textLength="11.72" lengthAdjust="spacingAndGlyphs">3/2</text>
<rect x="324.6" y="178.4" width="1.7" height="7.3" fill="#18e018"/><rect x="328.2" y="178.4" width="1.7" height="7.3" fill="#18e018"/>
<text x="371.25" y="184.80" font-family='"Liberation Serif", serif' font-weight="bold" font-size="20.17" fill="#000" textLength="7.04" lengthAdjust="spacingAndGlyphs">f</text>
<rect x="388.6" y="173.3" width="150.00" height="120.70" fill="none" stroke="#7a7a7a" stroke-width="1.3"/>
<path d="M400.25,294.00v2.2M420.00,294.00v2.2M439.75,294.00v2.2M459.50,294.00v2.2M479.25,294.00v2.2M499.00,294.00v2.2M518.75,294.00v2.2" stroke="#7a7a7a" stroke-width="1.1" fill="none"/>
<text x="413.00" y="303.90" font-family='"Liberation Sans", sans-serif' font-weight="normal" font-size="8.40" fill="#1a1a1a" stroke="#1a1a1a" stroke-width="0.25">525</text>
<text x="452.49" y="303.90" font-family='"Liberation Sans", sans-serif' font-weight="normal" font-size="8.40" fill="#1a1a1a" stroke="#1a1a1a" stroke-width="0.25">520</text>
<text x="492.00" y="303.90" font-family='"Liberation Sans", sans-serif' font-weight="normal" font-size="8.40" fill="#1a1a1a" stroke="#1a1a1a" stroke-width="0.25">515</text>
<text x="531.49" y="303.90" font-family='"Liberation Sans", sans-serif' font-weight="normal" font-size="8.40" fill="#1a1a1a" stroke="#1a1a1a" stroke-width="0.25">510</text>
<text x="417.75" y="317.40" font-family='"Liberation Sans", sans-serif' font-weight="normal" font-size="10.20" fill="#1a1a1a" stroke="#1a1a1a" stroke-width="0.25" textLength="91.50" lengthAdjust="spacingAndGlyphs">Binding energy (eV)</text>
<text transform="translate(382.10,265.85) rotate(-90)" x="0" y="0" font-family='"Liberation Sans", sans-serif' font-weight="normal" font-size="10.00" fill="#1a1a1a" stroke="#1a1a1a" stroke-width="0.25" textLength="65.39" lengthAdjust="spacingAndGlyphs">Intensity (a.u.)</text>
<path d="M400.25,273.75 L401.25,275.13 L402.25,274.00 L403.25,273.43 L404.25,274.93 L405.25,274.79 L406.25,274.94 L407.25,276.33 L408.25,273.78 L409.25,273.86 L410.25,274.55 L411.25,273.72 L412.25,272.57 L413.25,272.50 L414.25,271.58 L415.25,271.47 L416.25,268.38 L417.25,267.11 L418.25,265.14 L419.25,264.71 L420.25,260.09 L421.25,259.62 L422.25,258.66 L423.25,255.58 L424.25,256.70 L425.25,257.57 L426.25,256.62 L427.25,258.34 L428.25,255.79 L429.25,257.48 L430.25,258.37 L431.25,257.62 L432.25,260.91 L433.25,260.18 L434.25,263.64 L435.25,263.75 L436.25,265.53 L437.25,264.52 L438.25,265.43 L439.25,268.23 L440.25,268.09 L441.25,269.66 L442.25,269.60 L443.25,271.23 L444.25,272.51 L445.25,273.08 L446.25,271.73 L447.25,270.69 L448.25,272.91 L449.25,274.10 L450.25,272.48 L451.25,274.29 L452.25,274.73 L453.25,274.90 L454.25,275.53 L455.25,276.03 L456.25,277.41 L457.25,276.26 L458.25,277.31 L459.25,276.74 L460.25,278.49 L461.25,280.05 L462.25,278.55 L463.25,276.81 L464.25,278.16 L465.25,278.04 L466.25,277.69 L467.25,276.99 L468.25,275.83 L469.25,276.16 L470.25,273.54 L471.25,274.77 L472.25,274.18 L473.25,272.74 L474.25,272.25 L475.25,272.98 L476.25,271.25 L477.25,268.72 L478.25,265.91 L479.25,261.66 L480.25,251.53 L481.25,240.63 L482.25,228.10 L483.25,215.18 L484.25,201.21 L485.25,191.26 L486.25,186.07 L487.25,186.40 L488.25,194.07 L489.25,206.92 L490.25,221.00 L491.25,234.57 L492.25,247.07 L493.25,256.51 L494.25,263.80 L495.25,267.81 L496.25,268.66 L497.25,271.51 L498.25,273.49 L499.25,274.14 L500.25,274.80 L501.25,273.95 L502.25,274.08 L503.25,275.75 L504.25,274.21 L505.25,275.18 L506.25,273.55 L507.25,274.69 L508.25,273.41 L509.25,275.30 L510.25,275.20 L511.25,274.73 L512.25,274.12 L513.25,274.56 L514.25,276.12 L515.25,274.94 L516.25,275.09 L517.25,275.49 L518.25,275.70 L519.25,273.68 L520.25,275.51 L521.25,275.91 L522.25,274.66" stroke="#6a6a6a" stroke-width="0.75" fill="none" stroke-linejoin="round"/>
<path d="M400.25,275.40 L400.75,275.40 L401.25,275.40 L401.75,275.40 L402.25,275.40 L402.75,275.40 L403.25,275.40 L403.75,275.40 L404.25,275.40 L404.75,275.40 L405.25,275.40 L405.75,275.40 L406.25,275.40 L406.75,275.40 L407.25,275.40 L407.75,275.40 L408.25,275.40 L408.75,275.40 L409.25,275.40 L409.75,275.40 L410.25,275.40 L410.75,275.40 L411.25,275.40 L411.75,275.40 L412.25,275.40 L412.75,275.40 L413.25,275.40 L413.75,275.40 L414.25,275.40 L414.75,275.40 L415.25,275.40 L415.75,275.40 L416.25,275.40 L416.75,275.40 L417.25,275.40 L417.75,275.40 L418.25,275.40 L418.75,275.40 L419.25,275.40 L419.75,275.40 L420.25,275.40 L420.75,275.40 L421.25,275.40 L421.75,275.40 L422.25,275.40 L422.75,275.40 L423.25,275.40 L423.75,275.40 L424.25,275.40 L424.75,275.40 L425.25,275.40 L425.75,275.40 L426.25,275.40 L426.75,275.40 L427.25,275.40 L427.75,275.40 L428.25,275.40 L428.75,275.40 L429.25,275.40 L429.75,275.40 L430.25,275.40 L430.75,275.40 L431.25,275.40 L431.75,275.40 L432.25,275.40 L432.75,275.40 L433.25,275.40 L433.75,275.40 L434.25,275.40 L434.75,275.40 L435.25,275.40 L435.75,275.40 L436.25,275.40 L436.75,275.40 L437.25,275.40 L437.75,275.40 L438.25,275.40 L438.75,275.40 L439.25,275.40 L439.75,275.40 L440.25,275.40 L440.75,275.40 L441.25,275.40 L441.75,275.40 L442.25,275.40 L442.75,275.40 L443.25,275.40 L443.75,275.40 L444.25,275.40 L444.75,275.40 L445.25,275.40 L445.75,275.40 L446.25,275.40 L446.75,275.40 L447.25,275.40 L447.75,275.40 L448.25,275.40 L448.75,275.40 L449.25,275.40 L449.75,275.40 L450.25,275.40 L450.75,275.40 L451.25,275.40 L451.75,275.40 L452.25,275.40 L452.75,275.40 L453.25,275.40 L453.75,275.40 L454.25,275.40 L454.75,275.40 L455.25,275.40 L455.75,275.40 L456.25,275.40 L456.75,275.40 L457.25,275.40 L457.75,275.40 L458.25,275.40 L458.75,275.40 L459.25,275.40 L459.75,275.40 L460.25,275.40 L460.75,275.40 L461.25,275.40 L461.75,275.40 L462.25,275.40 L462.75,275.40 L463.25,275.40 L463.75,275.40 L464.25,275.40 L464.75,275.40 L465.25,275.40 L465.75,275.40 L466.25,275.40 L466.75,275.40 L467.25,275.40 L467.75,275.40 L468.25,275.40 L468.75,275.40 L469.25,275.40 L469.75,275.40 L470.25,275.40 L470.75,275.40 L471.25,275.40 L471.75,275.40 L472.25,275.40 L472.75,275.40 L473.25,275.40 L473.75,275.40 L474.25,275.40 L474.75,275.40 L475.25,275.40 L475.75,275.40 L476.25,275.40 L476.75,275.40 L477.25,275.40 L477.75,275.40 L478.25,275.40 L478.75,275.40 L479.25,275.40 L479.75,275.40 L480.25,275.40 L480.75,275.40 L481.25,275.40 L481.75,275.40 L482.25,275.40 L482.75,275.40 L483.25,275.40 L483.75,275.40 L484.25,275.40 L484.75,275.40 L485.25,275.40 L485.75,275.40 L486.25,275.40 L486.75,275.40 L487.25,275.40 L487.75,275.40 L488.25,275.40 L488.75,275.40 L489.25,275.40 L489.75,275.40 L490.25,275.40 L490.75,275.40 L491.25,275.40 L491.75,275.40 L492.25,275.40 L492.75,275.40 L493.25,275.40 L493.75,275.40 L494.25,275.40 L494.75,275.40 L495.25,275.40 L495.75,275.40 L496.25,275.40 L496.75,275.40 L497.25,275.40 L497.75,275.40 L498.25,275.40 L498.75,275.40 L499.25,275.40 L499.75,275.40 L500.25,275.40 L500.75,275.40 L501.25,275.40 L501.75,275.40 L502.25,275.40 L502.75,275.40 L503.25,275.40 L503.75,275.40 L504.25,275.40 L504.75,275.40 L505.25,275.40 L505.75,275.40 L506.25,275.40 L506.75,275.40 L507.25,275.40 L507.75,275.40 L508.25,275.40 L508.75,275.40 L509.25,275.40 L509.75,275.40 L510.25,275.40 L510.75,275.40 L511.25,275.40 L511.75,275.40 L512.25,275.40 L512.75,275.40 L513.25,275.40 L513.75,275.40 L514.25,275.40 L514.75,275.40 L515.25,275.40 L515.75,275.40 L516.25,275.40 L516.75,275.40 L517.25,275.40 L517.75,275.40 L518.25,275.40 L518.75,275.40 L519.25,275.40 L519.75,275.40 L520.25,275.40 L520.75,275.40 L521.25,275.40 L521.75,275.40 L522.25,275.40" stroke="#e83a3a" stroke-width="1.15" fill="none" stroke-linejoin="round"/>
<path d="M400.25,275.37 L400.75,275.36 L401.25,275.35 L401.75,275.34 L402.25,275.32 L402.75,275.31 L403.25,275.28 L403.75,275.26 L404.25,275.23 L404.75,275.19 L405.25,275.15 L405.75,275.10 L406.25,275.04 L406.75,274.97 L407.25,274.89 L407.75,274.79 L408.25,274.68 L408.75,274.56 L409.25,274.42 L409.75,274.26 L410.25,274.08 L410.75,273.87 L411.25,273.64 L411.75,273.39 L412.25,273.11 L412.75,272.80 L413.25,272.46 L413.75,272.08 L414.25,271.68 L414.75,271.24 L415.25,270.77 L415.75,270.27 L416.25,269.74 L416.75,269.18 L417.25,268.59 L417.75,267.97 L418.25,267.33 L418.75,266.67 L419.25,265.99 L419.75,265.31 L420.25,264.61 L420.75,263.92 L421.25,263.23 L421.75,262.55 L422.25,261.89 L422.75,261.25 L423.25,260.64 L423.75,260.07 L424.25,259.54 L424.75,259.05 L425.25,258.63 L425.75,258.25 L426.25,257.95 L426.75,257.70 L427.25,257.53 L427.75,257.43 L428.25,257.40 L428.75,257.44 L429.25,257.56 L429.75,257.75 L430.25,258.00 L430.75,258.32 L431.25,258.71 L431.75,259.15 L432.25,259.64 L432.75,260.18 L433.25,260.76 L433.75,261.38 L434.25,262.02 L434.75,262.68 L435.25,263.37 L435.75,264.06 L436.25,264.75 L436.75,265.44 L437.25,266.13 L437.75,266.80 L438.25,267.46 L438.75,268.09 L439.25,268.71 L439.75,269.29 L440.25,269.85 L440.75,270.37 L441.25,270.87 L441.75,271.33 L442.25,271.76 L442.75,272.16 L443.25,272.53 L443.75,272.86 L444.25,273.17 L444.75,273.44 L445.25,273.69 L445.75,273.92 L446.25,274.11 L446.75,274.29 L447.25,274.45 L447.75,274.59 L448.25,274.71 L448.75,274.81 L449.25,274.90 L449.75,274.98 L450.25,275.05 L450.75,275.11 L451.25,275.16 L451.75,275.20 L452.25,275.23 L452.75,275.26 L453.25,275.29 L453.75,275.31 L454.25,275.33 L454.75,275.34 L455.25,275.35 L455.75,275.36 L456.25,275.37 L456.75,275.38 L457.25,275.38 L457.75,275.38 L458.25,275.39 L458.75,275.39 L459.25,275.39 L459.75,275.39 L460.25,275.40 L460.75,275.40 L461.25,275.40 L461.75,275.40 L462.25,275.40 L462.75,275.40 L463.25,275.40 L463.75,275.40 L464.25,275.40 L464.75,275.40 L465.25,275.40 L465.75,275.40 L466.25,275.40 L466.75,275.40 L467.25,275.40 L467.75,275.40 L468.25,275.40 L468.75,275.40 L469.25,275.40 L469.75,275.40 L470.25,275.40 L470.75,275.40 L471.25,275.40 L471.75,275.40 L472.25,275.40 L472.75,275.40 L473.25,275.40 L473.75,275.40 L474.25,275.40 L474.75,275.40 L475.25,275.40 L475.75,275.40 L476.25,275.40 L476.75,275.40 L477.25,275.40 L477.75,275.40 L478.25,275.40 L478.75,275.40 L479.25,275.40 L479.75,275.40 L480.25,275.40 L480.75,275.40 L481.25,275.40 L481.75,275.40 L482.25,275.40 L482.75,275.40 L483.25,275.40 L483.75,275.40 L484.25,275.40 L484.75,275.40 L485.25,275.40 L485.75,275.40 L486.25,275.40 L486.75,275.40 L487.25,275.40 L487.75,275.40 L488.25,275.40 L488.75,275.40 L489.25,275.40 L489.75,275.40 L490.25,275.40 L490.75,275.40 L491.25,275.40 L491.75,275.40 L492.25,275.40 L492.75,275.40 L493.25,275.40 L493.75,275.40 L494.25,275.40 L494.75,275.40 L495.25,275.40 L495.75,275.40 L496.25,275.40 L496.75,275.40 L497.25,275.40 L497.75,275.40 L498.25,275.40 L498.75,275.40 L499.25,275.40 L499.75,275.40 L500.25,275.40" stroke="#3636f0" stroke-width="1.15" fill="none" stroke-linejoin="round"/>
<path d="M400.25,275.37 L400.75,275.36 L401.25,275.36 L401.75,275.36 L402.25,275.36 L402.75,275.36 L403.25,275.36 L403.75,275.36 L404.25,275.36 L404.75,275.36 L405.25,275.36 L405.75,275.36 L406.25,275.36 L406.75,275.36 L407.25,275.36 L407.75,275.36 L408.25,275.36 L408.75,275.36 L409.25,275.36 L409.75,275.36 L410.25,275.36 L410.75,275.35 L411.25,275.35 L411.75,275.35 L412.25,275.35 L412.75,275.35 L413.25,275.35 L413.75,275.35 L414.25,275.35 L414.75,275.35 L415.25,275.35 L415.75,275.35 L416.25,275.35 L416.75,275.35 L417.25,275.35 L417.75,275.35 L418.25,275.34 L418.75,275.34 L419.25,275.34 L419.75,275.34 L420.25,275.34 L420.75,275.34 L421.25,275.34 L421.75,275.34 L422.25,275.34 L422.75,275.34 L423.25,275.34 L423.75,275.33 L424.25,275.33 L424.75,275.33 L425.25,275.33 L425.75,275.33 L426.25,275.33 L426.75,275.33 L427.25,275.33 L427.75,275.32 L428.25,275.32 L428.75,275.32 L429.25,275.32 L429.75,275.32 L430.25,275.32 L430.75,275.32 L431.25,275.32 L431.75,275.31 L432.25,275.31 L432.75,275.31 L433.25,275.31 L433.75,275.31 L434.25,275.31 L434.75,275.30 L435.25,275.30 L435.75,275.30 L436.25,275.30 L436.75,275.30 L437.25,275.29 L437.75,275.29 L438.25,275.29 L438.75,275.29 L439.25,275.28 L439.75,275.28 L440.25,275.28 L440.75,275.28 L441.25,275.27 L441.75,275.27 L442.25,275.27 L442.75,275.27 L443.25,275.26 L443.75,275.26 L444.25,275.26 L444.75,275.25 L445.25,275.25 L445.75,275.24 L446.25,275.24 L446.75,275.24 L447.25,275.23 L447.75,275.23 L448.25,275.22 L448.75,275.22 L449.25,275.21 L449.75,275.21 L450.25,275.20 L450.75,275.20 L451.25,275.19 L451.75,275.19 L452.25,275.18 L452.75,275.17 L453.25,275.17 L453.75,275.16 L454.25,275.15 L454.75,275.15 L455.25,275.14 L455.75,275.13 L456.25,275.12 L456.75,275.11 L457.25,275.10 L457.75,275.09 L458.25,275.08 L458.75,275.07 L459.25,275.06 L459.75,275.05 L460.25,275.03 L460.75,275.02 L461.25,275.00 L461.75,274.99 L462.25,274.97 L462.75,274.95 L463.25,274.93 L463.75,274.91 L464.25,274.89 L464.75,274.87 L465.25,274.85 L465.75,274.82 L466.25,274.79 L466.75,274.76 L467.25,274.73 L467.75,274.70 L468.25,274.66 L468.75,274.62 L469.25,274.58 L469.75,274.53 L470.25,274.47 L470.75,274.41 L471.25,274.35 L471.75,274.27 L472.25,274.17 L472.75,274.06 L473.25,273.92 L473.75,273.74 L474.25,273.51 L474.75,273.20 L475.25,272.79 L475.75,272.25 L476.25,271.53 L476.75,270.58 L477.25,269.35 L477.75,267.76 L478.25,265.74 L478.75,263.23 L479.25,260.15 L479.75,256.45 L480.25,252.09 L480.75,247.06 L481.25,241.39 L481.75,235.15 L482.25,228.45 L482.75,221.46 L483.25,214.39 L483.75,207.49 L484.25,201.05 L484.75,195.37 L485.25,190.76 L485.75,187.50 L486.25,185.81 L486.75,185.81 L487.25,187.50 L487.75,190.76 L488.25,195.37 L488.75,201.05 L489.25,207.49 L489.75,214.39 L490.25,221.46 L490.75,228.45 L491.25,235.15 L491.75,241.39 L492.25,247.06 L492.75,252.09 L493.25,256.45 L493.75,260.15 L494.25,263.23 L494.75,265.74 L495.25,267.76 L495.75,269.35 L496.25,270.58 L496.75,271.53 L497.25,272.25 L497.75,272.79 L498.25,273.20 L498.75,273.51 L499.25,273.74 L499.75,273.92 L500.25,274.06 L500.75,274.17 L501.25,274.27 L501.75,274.35 L502.25,274.41 L502.75,274.47 L503.25,274.53 L503.75,274.58 L504.25,274.62 L504.75,274.66 L505.25,274.70 L505.75,274.73 L506.25,274.76 L506.75,274.79 L507.25,274.82 L507.75,274.85 L508.25,274.87 L508.75,274.89 L509.25,274.91 L509.75,274.93 L510.25,274.95 L510.75,274.97 L511.25,274.99 L511.75,275.00 L512.25,275.02 L512.75,275.03 L513.25,275.05 L513.75,275.06 L514.25,275.07 L514.75,275.08 L515.25,275.09 L515.75,275.10 L516.25,275.11 L516.75,275.12 L517.25,275.13 L517.75,275.14 L518.25,275.15 L518.75,275.15 L519.25,275.16 L519.75,275.17 L520.25,275.17 L520.75,275.18 L521.25,275.19 L521.75,275.19 L522.25,275.20" stroke="#e83a3a" stroke-width="1.15" fill="none" stroke-linejoin="round"/>
<text x="400.65" y="192.30" font-family='"Liberation Sans", sans-serif' font-weight="normal" font-size="11.34" fill="#0070C0" stroke="#0070C0" stroke-width="0.45" textLength="24.64" lengthAdjust="spacingAndGlyphs">V 2p</text>
<text x="424.45" y="252.40" font-family='"Liberation Sans", sans-serif' font-weight="normal" font-size="11.05" fill="#0070C0" stroke="#0070C0" stroke-width="0.45" textLength="24.03" lengthAdjust="spacingAndGlyphs">V 2p</text>
<text x="448.79" y="254.75" font-family='"Liberation Sans", sans-serif' font-weight="bold" font-size="7.52" fill="#0070C0" stroke="#0070C0" stroke-width="0.2" textLength="11.32" lengthAdjust="spacingAndGlyphs">1/2</text>
<text x="491.03" y="194.40" font-family='"Liberation Sans", sans-serif' font-weight="bold" font-size="11.77" fill="#ff10ee" stroke="#ff10ee" stroke-width="0.2" textLength="24.03" lengthAdjust="spacingAndGlyphs">V 2p</text>
<text x="515.72" y="196.76" font-family='"Liberation Sans", sans-serif' font-weight="bold" font-size="7.25" fill="#ff10ee" stroke="#ff10ee" stroke-width="0.2" textLength="11.19" lengthAdjust="spacingAndGlyphs">3/2</text>
</svg></body></html>
